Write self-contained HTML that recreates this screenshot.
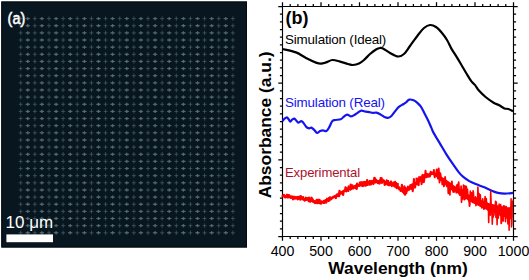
<!DOCTYPE html>
<html><head><meta charset="utf-8"><style>
html,body{margin:0;padding:0;background:#fff;width:529px;height:280px;overflow:hidden}
svg{display:block}
text{font-family:"Liberation Sans",sans-serif}
</style></head><body>
<svg width="529" height="280" viewBox="0 0 529 280">
<rect x="1.3" y="1.5" width="245.7" height="246" fill="#081620"/><rect x="1.8" y="2" width="244.7" height="245" fill="none" stroke="#03090d" stroke-width="1"/>
<filter id="bl" x="-5%" y="-5%" width="110%" height="110%"><feGaussianBlur stdDeviation="0.45"/></filter><path d="M18.70,18.60h4.0M20.70,16.40v4.4M25.6,18.6L27.3,18.2L27.8,17.0L28.3,18.2L30.0,18.6L28.3,19.1L27.8,20.2L27.3,19.1ZM32.85,18.60h4.0M34.85,16.40v4.4M39.7,18.6L41.4,18.2L41.9,17.0L42.4,18.2L44.1,18.6L42.4,19.1L41.9,20.2L41.4,19.1ZM46.99,18.60h4.0M48.99,16.40v4.4M53.9,18.6L55.6,18.2L56.1,17.0L56.6,18.2L58.3,18.6L56.6,19.1L56.1,20.2L55.6,19.1ZM61.14,18.60h4.0M63.14,16.40v4.4M68.0,18.6L69.7,18.2L70.2,17.0L70.7,18.2L72.4,18.6L70.7,19.1L70.2,20.2L69.7,19.1ZM75.28,18.60h4.0M77.28,16.40v4.4M82.2,18.6L83.9,18.2L84.4,17.0L84.9,18.2L86.6,18.6L84.9,19.1L84.4,20.2L83.9,19.1ZM89.43,18.60h4.0M91.43,16.40v4.4M96.3,18.6L98.0,18.2L98.5,17.0L99.0,18.2L100.7,18.6L99.0,19.1L98.5,20.2L98.0,19.1ZM103.58,18.60h4.0M105.58,16.40v4.4M110.4,18.6L112.1,18.2L112.6,17.0L113.1,18.2L114.8,18.6L113.1,19.1L112.6,20.2L112.1,19.1ZM117.72,18.60h4.0M119.72,16.40v4.4M124.6,18.6L126.3,18.2L126.8,17.0L127.3,18.2L129.0,18.6L127.3,19.1L126.8,20.2L126.3,19.1ZM131.87,18.60h4.0M133.87,16.40v4.4M138.7,18.6L140.4,18.2L140.9,17.0L141.4,18.2L143.1,18.6L141.4,19.1L140.9,20.2L140.4,19.1ZM146.01,18.60h4.0M148.01,16.40v4.4M152.9,18.6L154.6,18.2L155.1,17.0L155.6,18.2L157.3,18.6L155.6,19.1L155.1,20.2L154.6,19.1ZM160.16,18.60h4.0M162.16,16.40v4.4M167.0,18.6L168.7,18.2L169.2,17.0L169.7,18.2L171.4,18.6L169.7,19.1L169.2,20.2L168.7,19.1ZM174.31,18.60h4.0M176.31,16.40v4.4M181.2,18.6L182.9,18.2L183.4,17.0L183.9,18.2L185.6,18.6L183.9,19.1L183.4,20.2L182.9,19.1ZM188.45,18.60h4.0M190.45,16.40v4.4M195.3,18.6L197.0,18.2L197.5,17.0L198.0,18.2L199.7,18.6L198.0,19.1L197.5,20.2L197.0,19.1ZM202.60,18.60h4.0M204.60,16.40v4.4M209.5,18.6L211.2,18.2L211.7,17.0L212.2,18.2L213.9,18.6L212.2,19.1L211.7,20.2L211.2,19.1ZM216.74,18.60h4.0M218.74,16.40v4.4M223.6,18.6L225.3,18.2L225.8,17.0L226.3,18.2L228.0,18.6L226.3,19.1L225.8,20.2L225.3,19.1ZM230.89,18.60h4.0M232.89,16.40v4.4M18.70,25.74h4.0M20.70,23.54v4.4M25.6,25.7L27.3,25.3L27.8,24.1L28.3,25.3L30.0,25.7L28.3,26.2L27.8,27.3L27.3,26.2ZM32.85,25.74h4.0M34.85,23.54v4.4M39.7,25.7L41.4,25.3L41.9,24.1L42.4,25.3L44.1,25.7L42.4,26.2L41.9,27.3L41.4,26.2ZM46.99,25.74h4.0M48.99,23.54v4.4M53.9,25.7L55.6,25.3L56.1,24.1L56.6,25.3L58.3,25.7L56.6,26.2L56.1,27.3L55.6,26.2ZM61.14,25.74h4.0M63.14,23.54v4.4M68.0,25.7L69.7,25.3L70.2,24.1L70.7,25.3L72.4,25.7L70.7,26.2L70.2,27.3L69.7,26.2ZM75.28,25.74h4.0M77.28,23.54v4.4M82.2,25.7L83.9,25.3L84.4,24.1L84.9,25.3L86.6,25.7L84.9,26.2L84.4,27.3L83.9,26.2ZM89.43,25.74h4.0M91.43,23.54v4.4M96.3,25.7L98.0,25.3L98.5,24.1L99.0,25.3L100.7,25.7L99.0,26.2L98.5,27.3L98.0,26.2ZM103.58,25.74h4.0M105.58,23.54v4.4M110.4,25.7L112.1,25.3L112.6,24.1L113.1,25.3L114.8,25.7L113.1,26.2L112.6,27.3L112.1,26.2ZM117.72,25.74h4.0M119.72,23.54v4.4M124.6,25.7L126.3,25.3L126.8,24.1L127.3,25.3L129.0,25.7L127.3,26.2L126.8,27.3L126.3,26.2ZM131.87,25.74h4.0M133.87,23.54v4.4M138.7,25.7L140.4,25.3L140.9,24.1L141.4,25.3L143.1,25.7L141.4,26.2L140.9,27.3L140.4,26.2ZM146.01,25.74h4.0M148.01,23.54v4.4M152.9,25.7L154.6,25.3L155.1,24.1L155.6,25.3L157.3,25.7L155.6,26.2L155.1,27.3L154.6,26.2ZM160.16,25.74h4.0M162.16,23.54v4.4M167.0,25.7L168.7,25.3L169.2,24.1L169.7,25.3L171.4,25.7L169.7,26.2L169.2,27.3L168.7,26.2ZM174.31,25.74h4.0M176.31,23.54v4.4M181.2,25.7L182.9,25.3L183.4,24.1L183.9,25.3L185.6,25.7L183.9,26.2L183.4,27.3L182.9,26.2ZM188.45,25.74h4.0M190.45,23.54v4.4M195.3,25.7L197.0,25.3L197.5,24.1L198.0,25.3L199.7,25.7L198.0,26.2L197.5,27.3L197.0,26.2ZM202.60,25.74h4.0M204.60,23.54v4.4M209.5,25.7L211.2,25.3L211.7,24.1L212.2,25.3L213.9,25.7L212.2,26.2L211.7,27.3L211.2,26.2ZM216.74,25.74h4.0M218.74,23.54v4.4M223.6,25.7L225.3,25.3L225.8,24.1L226.3,25.3L228.0,25.7L226.3,26.2L225.8,27.3L225.3,26.2ZM230.89,25.74h4.0M232.89,23.54v4.4M18.70,32.88h4.0M20.70,30.68v4.4M25.6,32.9L27.3,32.4L27.8,31.3L28.3,32.4L30.0,32.9L28.3,33.3L27.8,34.5L27.3,33.3ZM32.85,32.88h4.0M34.85,30.68v4.4M39.7,32.9L41.4,32.4L41.9,31.3L42.4,32.4L44.1,32.9L42.4,33.3L41.9,34.5L41.4,33.3ZM46.99,32.88h4.0M48.99,30.68v4.4M53.9,32.9L55.6,32.4L56.1,31.3L56.6,32.4L58.3,32.9L56.6,33.3L56.1,34.5L55.6,33.3ZM61.14,32.88h4.0M63.14,30.68v4.4M68.0,32.9L69.7,32.4L70.2,31.3L70.7,32.4L72.4,32.9L70.7,33.3L70.2,34.5L69.7,33.3ZM75.28,32.88h4.0M77.28,30.68v4.4M82.2,32.9L83.9,32.4L84.4,31.3L84.9,32.4L86.6,32.9L84.9,33.3L84.4,34.5L83.9,33.3ZM89.43,32.88h4.0M91.43,30.68v4.4M96.3,32.9L98.0,32.4L98.5,31.3L99.0,32.4L100.7,32.9L99.0,33.3L98.5,34.5L98.0,33.3ZM103.58,32.88h4.0M105.58,30.68v4.4M110.4,32.9L112.1,32.4L112.6,31.3L113.1,32.4L114.8,32.9L113.1,33.3L112.6,34.5L112.1,33.3ZM117.72,32.88h4.0M119.72,30.68v4.4M124.6,32.9L126.3,32.4L126.8,31.3L127.3,32.4L129.0,32.9L127.3,33.3L126.8,34.5L126.3,33.3ZM131.87,32.88h4.0M133.87,30.68v4.4M138.7,32.9L140.4,32.4L140.9,31.3L141.4,32.4L143.1,32.9L141.4,33.3L140.9,34.5L140.4,33.3ZM146.01,32.88h4.0M148.01,30.68v4.4M152.9,32.9L154.6,32.4L155.1,31.3L155.6,32.4L157.3,32.9L155.6,33.3L155.1,34.5L154.6,33.3ZM160.16,32.88h4.0M162.16,30.68v4.4M167.0,32.9L168.7,32.4L169.2,31.3L169.7,32.4L171.4,32.9L169.7,33.3L169.2,34.5L168.7,33.3ZM174.31,32.88h4.0M176.31,30.68v4.4M181.2,32.9L182.9,32.4L183.4,31.3L183.9,32.4L185.6,32.9L183.9,33.3L183.4,34.5L182.9,33.3ZM188.45,32.88h4.0M190.45,30.68v4.4M195.3,32.9L197.0,32.4L197.5,31.3L198.0,32.4L199.7,32.9L198.0,33.3L197.5,34.5L197.0,33.3ZM202.60,32.88h4.0M204.60,30.68v4.4M209.5,32.9L211.2,32.4L211.7,31.3L212.2,32.4L213.9,32.9L212.2,33.3L211.7,34.5L211.2,33.3ZM216.74,32.88h4.0M218.74,30.68v4.4M223.6,32.9L225.3,32.4L225.8,31.3L226.3,32.4L228.0,32.9L226.3,33.3L225.8,34.5L225.3,33.3ZM230.89,32.88h4.0M232.89,30.68v4.4M18.70,40.02h4.0M20.70,37.82v4.4M25.6,40.0L27.3,39.6L27.8,38.4L28.3,39.6L30.0,40.0L28.3,40.5L27.8,41.6L27.3,40.5ZM32.85,40.02h4.0M34.85,37.82v4.4M39.7,40.0L41.4,39.6L41.9,38.4L42.4,39.6L44.1,40.0L42.4,40.5L41.9,41.6L41.4,40.5ZM46.99,40.02h4.0M48.99,37.82v4.4M53.9,40.0L55.6,39.6L56.1,38.4L56.6,39.6L58.3,40.0L56.6,40.5L56.1,41.6L55.6,40.5ZM61.14,40.02h4.0M63.14,37.82v4.4M68.0,40.0L69.7,39.6L70.2,38.4L70.7,39.6L72.4,40.0L70.7,40.5L70.2,41.6L69.7,40.5ZM75.28,40.02h4.0M77.28,37.82v4.4M82.2,40.0L83.9,39.6L84.4,38.4L84.9,39.6L86.6,40.0L84.9,40.5L84.4,41.6L83.9,40.5ZM89.43,40.02h4.0M91.43,37.82v4.4M96.3,40.0L98.0,39.6L98.5,38.4L99.0,39.6L100.7,40.0L99.0,40.5L98.5,41.6L98.0,40.5ZM103.58,40.02h4.0M105.58,37.82v4.4M110.4,40.0L112.1,39.6L112.6,38.4L113.1,39.6L114.8,40.0L113.1,40.5L112.6,41.6L112.1,40.5ZM117.72,40.02h4.0M119.72,37.82v4.4M124.6,40.0L126.3,39.6L126.8,38.4L127.3,39.6L129.0,40.0L127.3,40.5L126.8,41.6L126.3,40.5ZM131.87,40.02h4.0M133.87,37.82v4.4M138.7,40.0L140.4,39.6L140.9,38.4L141.4,39.6L143.1,40.0L141.4,40.5L140.9,41.6L140.4,40.5ZM146.01,40.02h4.0M148.01,37.82v4.4M152.9,40.0L154.6,39.6L155.1,38.4L155.6,39.6L157.3,40.0L155.6,40.5L155.1,41.6L154.6,40.5ZM160.16,40.02h4.0M162.16,37.82v4.4M167.0,40.0L168.7,39.6L169.2,38.4L169.7,39.6L171.4,40.0L169.7,40.5L169.2,41.6L168.7,40.5ZM174.31,40.02h4.0M176.31,37.82v4.4M181.2,40.0L182.9,39.6L183.4,38.4L183.9,39.6L185.6,40.0L183.9,40.5L183.4,41.6L182.9,40.5ZM188.45,40.02h4.0M190.45,37.82v4.4M195.3,40.0L197.0,39.6L197.5,38.4L198.0,39.6L199.7,40.0L198.0,40.5L197.5,41.6L197.0,40.5ZM202.60,40.02h4.0M204.60,37.82v4.4M209.5,40.0L211.2,39.6L211.7,38.4L212.2,39.6L213.9,40.0L212.2,40.5L211.7,41.6L211.2,40.5ZM216.74,40.02h4.0M218.74,37.82v4.4M223.6,40.0L225.3,39.6L225.8,38.4L226.3,39.6L228.0,40.0L226.3,40.5L225.8,41.6L225.3,40.5ZM230.89,40.02h4.0M232.89,37.82v4.4M18.70,47.16h4.0M20.70,44.96v4.4M25.6,47.2L27.3,46.7L27.8,45.6L28.3,46.7L30.0,47.2L28.3,47.6L27.8,48.8L27.3,47.6ZM32.85,47.16h4.0M34.85,44.96v4.4M39.7,47.2L41.4,46.7L41.9,45.6L42.4,46.7L44.1,47.2L42.4,47.6L41.9,48.8L41.4,47.6ZM46.99,47.16h4.0M48.99,44.96v4.4M53.9,47.2L55.6,46.7L56.1,45.6L56.6,46.7L58.3,47.2L56.6,47.6L56.1,48.8L55.6,47.6ZM61.14,47.16h4.0M63.14,44.96v4.4M68.0,47.2L69.7,46.7L70.2,45.6L70.7,46.7L72.4,47.2L70.7,47.6L70.2,48.8L69.7,47.6ZM75.28,47.16h4.0M77.28,44.96v4.4M82.2,47.2L83.9,46.7L84.4,45.6L84.9,46.7L86.6,47.2L84.9,47.6L84.4,48.8L83.9,47.6ZM89.43,47.16h4.0M91.43,44.96v4.4M96.3,47.2L98.0,46.7L98.5,45.6L99.0,46.7L100.7,47.2L99.0,47.6L98.5,48.8L98.0,47.6ZM103.58,47.16h4.0M105.58,44.96v4.4M110.4,47.2L112.1,46.7L112.6,45.6L113.1,46.7L114.8,47.2L113.1,47.6L112.6,48.8L112.1,47.6ZM117.72,47.16h4.0M119.72,44.96v4.4M124.6,47.2L126.3,46.7L126.8,45.6L127.3,46.7L129.0,47.2L127.3,47.6L126.8,48.8L126.3,47.6ZM131.87,47.16h4.0M133.87,44.96v4.4M138.7,47.2L140.4,46.7L140.9,45.6L141.4,46.7L143.1,47.2L141.4,47.6L140.9,48.8L140.4,47.6ZM146.01,47.16h4.0M148.01,44.96v4.4M152.9,47.2L154.6,46.7L155.1,45.6L155.6,46.7L157.3,47.2L155.6,47.6L155.1,48.8L154.6,47.6ZM160.16,47.16h4.0M162.16,44.96v4.4M167.0,47.2L168.7,46.7L169.2,45.6L169.7,46.7L171.4,47.2L169.7,47.6L169.2,48.8L168.7,47.6ZM174.31,47.16h4.0M176.31,44.96v4.4M181.2,47.2L182.9,46.7L183.4,45.6L183.9,46.7L185.6,47.2L183.9,47.6L183.4,48.8L182.9,47.6ZM188.45,47.16h4.0M190.45,44.96v4.4M195.3,47.2L197.0,46.7L197.5,45.6L198.0,46.7L199.7,47.2L198.0,47.6L197.5,48.8L197.0,47.6ZM202.60,47.16h4.0M204.60,44.96v4.4M209.5,47.2L211.2,46.7L211.7,45.6L212.2,46.7L213.9,47.2L212.2,47.6L211.7,48.8L211.2,47.6ZM216.74,47.16h4.0M218.74,44.96v4.4M223.6,47.2L225.3,46.7L225.8,45.6L226.3,46.7L228.0,47.2L226.3,47.6L225.8,48.8L225.3,47.6ZM230.89,47.16h4.0M232.89,44.96v4.4M18.70,54.30h4.0M20.70,52.10v4.4M25.6,54.3L27.3,53.8L27.8,52.7L28.3,53.8L30.0,54.3L28.3,54.8L27.8,55.9L27.3,54.8ZM32.85,54.30h4.0M34.85,52.10v4.4M39.7,54.3L41.4,53.8L41.9,52.7L42.4,53.8L44.1,54.3L42.4,54.8L41.9,55.9L41.4,54.8ZM46.99,54.30h4.0M48.99,52.10v4.4M53.9,54.3L55.6,53.8L56.1,52.7L56.6,53.8L58.3,54.3L56.6,54.8L56.1,55.9L55.6,54.8ZM61.14,54.30h4.0M63.14,52.10v4.4M68.0,54.3L69.7,53.8L70.2,52.7L70.7,53.8L72.4,54.3L70.7,54.8L70.2,55.9L69.7,54.8ZM75.28,54.30h4.0M77.28,52.10v4.4M82.2,54.3L83.9,53.8L84.4,52.7L84.9,53.8L86.6,54.3L84.9,54.8L84.4,55.9L83.9,54.8ZM89.43,54.30h4.0M91.43,52.10v4.4M96.3,54.3L98.0,53.8L98.5,52.7L99.0,53.8L100.7,54.3L99.0,54.8L98.5,55.9L98.0,54.8ZM103.58,54.30h4.0M105.58,52.10v4.4M110.4,54.3L112.1,53.8L112.6,52.7L113.1,53.8L114.8,54.3L113.1,54.8L112.6,55.9L112.1,54.8ZM117.72,54.30h4.0M119.72,52.10v4.4M124.6,54.3L126.3,53.8L126.8,52.7L127.3,53.8L129.0,54.3L127.3,54.8L126.8,55.9L126.3,54.8ZM131.87,54.30h4.0M133.87,52.10v4.4M138.7,54.3L140.4,53.8L140.9,52.7L141.4,53.8L143.1,54.3L141.4,54.8L140.9,55.9L140.4,54.8ZM146.01,54.30h4.0M148.01,52.10v4.4M152.9,54.3L154.6,53.8L155.1,52.7L155.6,53.8L157.3,54.3L155.6,54.8L155.1,55.9L154.6,54.8ZM160.16,54.30h4.0M162.16,52.10v4.4M167.0,54.3L168.7,53.8L169.2,52.7L169.7,53.8L171.4,54.3L169.7,54.8L169.2,55.9L168.7,54.8ZM174.31,54.30h4.0M176.31,52.10v4.4M181.2,54.3L182.9,53.8L183.4,52.7L183.9,53.8L185.6,54.3L183.9,54.8L183.4,55.9L182.9,54.8ZM188.45,54.30h4.0M190.45,52.10v4.4M195.3,54.3L197.0,53.8L197.5,52.7L198.0,53.8L199.7,54.3L198.0,54.8L197.5,55.9L197.0,54.8ZM202.60,54.30h4.0M204.60,52.10v4.4M209.5,54.3L211.2,53.8L211.7,52.7L212.2,53.8L213.9,54.3L212.2,54.8L211.7,55.9L211.2,54.8ZM216.74,54.30h4.0M218.74,52.10v4.4M223.6,54.3L225.3,53.8L225.8,52.7L226.3,53.8L228.0,54.3L226.3,54.8L225.8,55.9L225.3,54.8ZM230.89,54.30h4.0M232.89,52.10v4.4M18.70,61.44h4.0M20.70,59.24v4.4M25.6,61.4L27.3,61.0L27.8,59.8L28.3,61.0L30.0,61.4L28.3,61.9L27.8,63.0L27.3,61.9ZM32.85,61.44h4.0M34.85,59.24v4.4M39.7,61.4L41.4,61.0L41.9,59.8L42.4,61.0L44.1,61.4L42.4,61.9L41.9,63.0L41.4,61.9ZM46.99,61.44h4.0M48.99,59.24v4.4M53.9,61.4L55.6,61.0L56.1,59.8L56.6,61.0L58.3,61.4L56.6,61.9L56.1,63.0L55.6,61.9ZM61.14,61.44h4.0M63.14,59.24v4.4M68.0,61.4L69.7,61.0L70.2,59.8L70.7,61.0L72.4,61.4L70.7,61.9L70.2,63.0L69.7,61.9ZM75.28,61.44h4.0M77.28,59.24v4.4M82.2,61.4L83.9,61.0L84.4,59.8L84.9,61.0L86.6,61.4L84.9,61.9L84.4,63.0L83.9,61.9ZM89.43,61.44h4.0M91.43,59.24v4.4M96.3,61.4L98.0,61.0L98.5,59.8L99.0,61.0L100.7,61.4L99.0,61.9L98.5,63.0L98.0,61.9ZM103.58,61.44h4.0M105.58,59.24v4.4M110.4,61.4L112.1,61.0L112.6,59.8L113.1,61.0L114.8,61.4L113.1,61.9L112.6,63.0L112.1,61.9ZM117.72,61.44h4.0M119.72,59.24v4.4M124.6,61.4L126.3,61.0L126.8,59.8L127.3,61.0L129.0,61.4L127.3,61.9L126.8,63.0L126.3,61.9ZM131.87,61.44h4.0M133.87,59.24v4.4M138.7,61.4L140.4,61.0L140.9,59.8L141.4,61.0L143.1,61.4L141.4,61.9L140.9,63.0L140.4,61.9ZM146.01,61.44h4.0M148.01,59.24v4.4M152.9,61.4L154.6,61.0L155.1,59.8L155.6,61.0L157.3,61.4L155.6,61.9L155.1,63.0L154.6,61.9ZM160.16,61.44h4.0M162.16,59.24v4.4M167.0,61.4L168.7,61.0L169.2,59.8L169.7,61.0L171.4,61.4L169.7,61.9L169.2,63.0L168.7,61.9ZM174.31,61.44h4.0M176.31,59.24v4.4M181.2,61.4L182.9,61.0L183.4,59.8L183.9,61.0L185.6,61.4L183.9,61.9L183.4,63.0L182.9,61.9ZM188.45,61.44h4.0M190.45,59.24v4.4M195.3,61.4L197.0,61.0L197.5,59.8L198.0,61.0L199.7,61.4L198.0,61.9L197.5,63.0L197.0,61.9ZM202.60,61.44h4.0M204.60,59.24v4.4M209.5,61.4L211.2,61.0L211.7,59.8L212.2,61.0L213.9,61.4L212.2,61.9L211.7,63.0L211.2,61.9ZM216.74,61.44h4.0M218.74,59.24v4.4M223.6,61.4L225.3,61.0L225.8,59.8L226.3,61.0L228.0,61.4L226.3,61.9L225.8,63.0L225.3,61.9ZM230.89,61.44h4.0M232.89,59.24v4.4M18.70,68.58h4.0M20.70,66.38v4.4M25.6,68.6L27.3,68.1L27.8,67.0L28.3,68.1L30.0,68.6L28.3,69.0L27.8,70.2L27.3,69.0ZM32.85,68.58h4.0M34.85,66.38v4.4M39.7,68.6L41.4,68.1L41.9,67.0L42.4,68.1L44.1,68.6L42.4,69.0L41.9,70.2L41.4,69.0ZM46.99,68.58h4.0M48.99,66.38v4.4M53.9,68.6L55.6,68.1L56.1,67.0L56.6,68.1L58.3,68.6L56.6,69.0L56.1,70.2L55.6,69.0ZM61.14,68.58h4.0M63.14,66.38v4.4M68.0,68.6L69.7,68.1L70.2,67.0L70.7,68.1L72.4,68.6L70.7,69.0L70.2,70.2L69.7,69.0ZM75.28,68.58h4.0M77.28,66.38v4.4M82.2,68.6L83.9,68.1L84.4,67.0L84.9,68.1L86.6,68.6L84.9,69.0L84.4,70.2L83.9,69.0ZM89.43,68.58h4.0M91.43,66.38v4.4M96.3,68.6L98.0,68.1L98.5,67.0L99.0,68.1L100.7,68.6L99.0,69.0L98.5,70.2L98.0,69.0ZM103.58,68.58h4.0M105.58,66.38v4.4M110.4,68.6L112.1,68.1L112.6,67.0L113.1,68.1L114.8,68.6L113.1,69.0L112.6,70.2L112.1,69.0ZM117.72,68.58h4.0M119.72,66.38v4.4M124.6,68.6L126.3,68.1L126.8,67.0L127.3,68.1L129.0,68.6L127.3,69.0L126.8,70.2L126.3,69.0ZM131.87,68.58h4.0M133.87,66.38v4.4M138.7,68.6L140.4,68.1L140.9,67.0L141.4,68.1L143.1,68.6L141.4,69.0L140.9,70.2L140.4,69.0ZM146.01,68.58h4.0M148.01,66.38v4.4M152.9,68.6L154.6,68.1L155.1,67.0L155.6,68.1L157.3,68.6L155.6,69.0L155.1,70.2L154.6,69.0ZM160.16,68.58h4.0M162.16,66.38v4.4M167.0,68.6L168.7,68.1L169.2,67.0L169.7,68.1L171.4,68.6L169.7,69.0L169.2,70.2L168.7,69.0ZM174.31,68.58h4.0M176.31,66.38v4.4M181.2,68.6L182.9,68.1L183.4,67.0L183.9,68.1L185.6,68.6L183.9,69.0L183.4,70.2L182.9,69.0ZM188.45,68.58h4.0M190.45,66.38v4.4M195.3,68.6L197.0,68.1L197.5,67.0L198.0,68.1L199.7,68.6L198.0,69.0L197.5,70.2L197.0,69.0ZM202.60,68.58h4.0M204.60,66.38v4.4M209.5,68.6L211.2,68.1L211.7,67.0L212.2,68.1L213.9,68.6L212.2,69.0L211.7,70.2L211.2,69.0ZM216.74,68.58h4.0M218.74,66.38v4.4M223.6,68.6L225.3,68.1L225.8,67.0L226.3,68.1L228.0,68.6L226.3,69.0L225.8,70.2L225.3,69.0ZM230.89,68.58h4.0M232.89,66.38v4.4M18.70,75.72h4.0M20.70,73.52v4.4M25.6,75.7L27.3,75.3L27.8,74.1L28.3,75.3L30.0,75.7L28.3,76.2L27.8,77.3L27.3,76.2ZM32.85,75.72h4.0M34.85,73.52v4.4M39.7,75.7L41.4,75.3L41.9,74.1L42.4,75.3L44.1,75.7L42.4,76.2L41.9,77.3L41.4,76.2ZM46.99,75.72h4.0M48.99,73.52v4.4M53.9,75.7L55.6,75.3L56.1,74.1L56.6,75.3L58.3,75.7L56.6,76.2L56.1,77.3L55.6,76.2ZM61.14,75.72h4.0M63.14,73.52v4.4M68.0,75.7L69.7,75.3L70.2,74.1L70.7,75.3L72.4,75.7L70.7,76.2L70.2,77.3L69.7,76.2ZM75.28,75.72h4.0M77.28,73.52v4.4M82.2,75.7L83.9,75.3L84.4,74.1L84.9,75.3L86.6,75.7L84.9,76.2L84.4,77.3L83.9,76.2ZM89.43,75.72h4.0M91.43,73.52v4.4M96.3,75.7L98.0,75.3L98.5,74.1L99.0,75.3L100.7,75.7L99.0,76.2L98.5,77.3L98.0,76.2ZM103.58,75.72h4.0M105.58,73.52v4.4M110.4,75.7L112.1,75.3L112.6,74.1L113.1,75.3L114.8,75.7L113.1,76.2L112.6,77.3L112.1,76.2ZM117.72,75.72h4.0M119.72,73.52v4.4M124.6,75.7L126.3,75.3L126.8,74.1L127.3,75.3L129.0,75.7L127.3,76.2L126.8,77.3L126.3,76.2ZM131.87,75.72h4.0M133.87,73.52v4.4M138.7,75.7L140.4,75.3L140.9,74.1L141.4,75.3L143.1,75.7L141.4,76.2L140.9,77.3L140.4,76.2ZM146.01,75.72h4.0M148.01,73.52v4.4M152.9,75.7L154.6,75.3L155.1,74.1L155.6,75.3L157.3,75.7L155.6,76.2L155.1,77.3L154.6,76.2ZM160.16,75.72h4.0M162.16,73.52v4.4M167.0,75.7L168.7,75.3L169.2,74.1L169.7,75.3L171.4,75.7L169.7,76.2L169.2,77.3L168.7,76.2ZM174.31,75.72h4.0M176.31,73.52v4.4M181.2,75.7L182.9,75.3L183.4,74.1L183.9,75.3L185.6,75.7L183.9,76.2L183.4,77.3L182.9,76.2ZM188.45,75.72h4.0M190.45,73.52v4.4M195.3,75.7L197.0,75.3L197.5,74.1L198.0,75.3L199.7,75.7L198.0,76.2L197.5,77.3L197.0,76.2ZM202.60,75.72h4.0M204.60,73.52v4.4M209.5,75.7L211.2,75.3L211.7,74.1L212.2,75.3L213.9,75.7L212.2,76.2L211.7,77.3L211.2,76.2ZM216.74,75.72h4.0M218.74,73.52v4.4M223.6,75.7L225.3,75.3L225.8,74.1L226.3,75.3L228.0,75.7L226.3,76.2L225.8,77.3L225.3,76.2ZM230.89,75.72h4.0M232.89,73.52v4.4M18.70,82.86h4.0M20.70,80.66v4.4M25.6,82.9L27.3,82.4L27.8,81.3L28.3,82.4L30.0,82.9L28.3,83.3L27.8,84.5L27.3,83.3ZM32.85,82.86h4.0M34.85,80.66v4.4M39.7,82.9L41.4,82.4L41.9,81.3L42.4,82.4L44.1,82.9L42.4,83.3L41.9,84.5L41.4,83.3ZM46.99,82.86h4.0M48.99,80.66v4.4M53.9,82.9L55.6,82.4L56.1,81.3L56.6,82.4L58.3,82.9L56.6,83.3L56.1,84.5L55.6,83.3ZM61.14,82.86h4.0M63.14,80.66v4.4M68.0,82.9L69.7,82.4L70.2,81.3L70.7,82.4L72.4,82.9L70.7,83.3L70.2,84.5L69.7,83.3ZM75.28,82.86h4.0M77.28,80.66v4.4M82.2,82.9L83.9,82.4L84.4,81.3L84.9,82.4L86.6,82.9L84.9,83.3L84.4,84.5L83.9,83.3ZM89.43,82.86h4.0M91.43,80.66v4.4M96.3,82.9L98.0,82.4L98.5,81.3L99.0,82.4L100.7,82.9L99.0,83.3L98.5,84.5L98.0,83.3ZM103.58,82.86h4.0M105.58,80.66v4.4M110.4,82.9L112.1,82.4L112.6,81.3L113.1,82.4L114.8,82.9L113.1,83.3L112.6,84.5L112.1,83.3ZM117.72,82.86h4.0M119.72,80.66v4.4M124.6,82.9L126.3,82.4L126.8,81.3L127.3,82.4L129.0,82.9L127.3,83.3L126.8,84.5L126.3,83.3ZM131.87,82.86h4.0M133.87,80.66v4.4M138.7,82.9L140.4,82.4L140.9,81.3L141.4,82.4L143.1,82.9L141.4,83.3L140.9,84.5L140.4,83.3ZM146.01,82.86h4.0M148.01,80.66v4.4M152.9,82.9L154.6,82.4L155.1,81.3L155.6,82.4L157.3,82.9L155.6,83.3L155.1,84.5L154.6,83.3ZM160.16,82.86h4.0M162.16,80.66v4.4M167.0,82.9L168.7,82.4L169.2,81.3L169.7,82.4L171.4,82.9L169.7,83.3L169.2,84.5L168.7,83.3ZM174.31,82.86h4.0M176.31,80.66v4.4M181.2,82.9L182.9,82.4L183.4,81.3L183.9,82.4L185.6,82.9L183.9,83.3L183.4,84.5L182.9,83.3ZM188.45,82.86h4.0M190.45,80.66v4.4M195.3,82.9L197.0,82.4L197.5,81.3L198.0,82.4L199.7,82.9L198.0,83.3L197.5,84.5L197.0,83.3ZM202.60,82.86h4.0M204.60,80.66v4.4M209.5,82.9L211.2,82.4L211.7,81.3L212.2,82.4L213.9,82.9L212.2,83.3L211.7,84.5L211.2,83.3ZM216.74,82.86h4.0M218.74,80.66v4.4M223.6,82.9L225.3,82.4L225.8,81.3L226.3,82.4L228.0,82.9L226.3,83.3L225.8,84.5L225.3,83.3ZM230.89,82.86h4.0M232.89,80.66v4.4M18.70,90.00h4.0M20.70,87.80v4.4M25.6,90.0L27.3,89.5L27.8,88.4L28.3,89.5L30.0,90.0L28.3,90.5L27.8,91.6L27.3,90.5ZM32.85,90.00h4.0M34.85,87.80v4.4M39.7,90.0L41.4,89.5L41.9,88.4L42.4,89.5L44.1,90.0L42.4,90.5L41.9,91.6L41.4,90.5ZM46.99,90.00h4.0M48.99,87.80v4.4M53.9,90.0L55.6,89.5L56.1,88.4L56.6,89.5L58.3,90.0L56.6,90.5L56.1,91.6L55.6,90.5ZM61.14,90.00h4.0M63.14,87.80v4.4M68.0,90.0L69.7,89.5L70.2,88.4L70.7,89.5L72.4,90.0L70.7,90.5L70.2,91.6L69.7,90.5ZM75.28,90.00h4.0M77.28,87.80v4.4M82.2,90.0L83.9,89.5L84.4,88.4L84.9,89.5L86.6,90.0L84.9,90.5L84.4,91.6L83.9,90.5ZM89.43,90.00h4.0M91.43,87.80v4.4M96.3,90.0L98.0,89.5L98.5,88.4L99.0,89.5L100.7,90.0L99.0,90.5L98.5,91.6L98.0,90.5ZM103.58,90.00h4.0M105.58,87.80v4.4M110.4,90.0L112.1,89.5L112.6,88.4L113.1,89.5L114.8,90.0L113.1,90.5L112.6,91.6L112.1,90.5ZM117.72,90.00h4.0M119.72,87.80v4.4M124.6,90.0L126.3,89.5L126.8,88.4L127.3,89.5L129.0,90.0L127.3,90.5L126.8,91.6L126.3,90.5ZM131.87,90.00h4.0M133.87,87.80v4.4M138.7,90.0L140.4,89.5L140.9,88.4L141.4,89.5L143.1,90.0L141.4,90.5L140.9,91.6L140.4,90.5ZM146.01,90.00h4.0M148.01,87.80v4.4M152.9,90.0L154.6,89.5L155.1,88.4L155.6,89.5L157.3,90.0L155.6,90.5L155.1,91.6L154.6,90.5ZM160.16,90.00h4.0M162.16,87.80v4.4M167.0,90.0L168.7,89.5L169.2,88.4L169.7,89.5L171.4,90.0L169.7,90.5L169.2,91.6L168.7,90.5ZM174.31,90.00h4.0M176.31,87.80v4.4M181.2,90.0L182.9,89.5L183.4,88.4L183.9,89.5L185.6,90.0L183.9,90.5L183.4,91.6L182.9,90.5ZM188.45,90.00h4.0M190.45,87.80v4.4M195.3,90.0L197.0,89.5L197.5,88.4L198.0,89.5L199.7,90.0L198.0,90.5L197.5,91.6L197.0,90.5ZM202.60,90.00h4.0M204.60,87.80v4.4M209.5,90.0L211.2,89.5L211.7,88.4L212.2,89.5L213.9,90.0L212.2,90.5L211.7,91.6L211.2,90.5ZM216.74,90.00h4.0M218.74,87.80v4.4M223.6,90.0L225.3,89.5L225.8,88.4L226.3,89.5L228.0,90.0L226.3,90.5L225.8,91.6L225.3,90.5ZM230.89,90.00h4.0M232.89,87.80v4.4M18.70,97.14h4.0M20.70,94.94v4.4M25.6,97.1L27.3,96.7L27.8,95.5L28.3,96.7L30.0,97.1L28.3,97.6L27.8,98.7L27.3,97.6ZM32.85,97.14h4.0M34.85,94.94v4.4M39.7,97.1L41.4,96.7L41.9,95.5L42.4,96.7L44.1,97.1L42.4,97.6L41.9,98.7L41.4,97.6ZM46.99,97.14h4.0M48.99,94.94v4.4M53.9,97.1L55.6,96.7L56.1,95.5L56.6,96.7L58.3,97.1L56.6,97.6L56.1,98.7L55.6,97.6ZM61.14,97.14h4.0M63.14,94.94v4.4M68.0,97.1L69.7,96.7L70.2,95.5L70.7,96.7L72.4,97.1L70.7,97.6L70.2,98.7L69.7,97.6ZM75.28,97.14h4.0M77.28,94.94v4.4M82.2,97.1L83.9,96.7L84.4,95.5L84.9,96.7L86.6,97.1L84.9,97.6L84.4,98.7L83.9,97.6ZM89.43,97.14h4.0M91.43,94.94v4.4M96.3,97.1L98.0,96.7L98.5,95.5L99.0,96.7L100.7,97.1L99.0,97.6L98.5,98.7L98.0,97.6ZM103.58,97.14h4.0M105.58,94.94v4.4M110.4,97.1L112.1,96.7L112.6,95.5L113.1,96.7L114.8,97.1L113.1,97.6L112.6,98.7L112.1,97.6ZM117.72,97.14h4.0M119.72,94.94v4.4M124.6,97.1L126.3,96.7L126.8,95.5L127.3,96.7L129.0,97.1L127.3,97.6L126.8,98.7L126.3,97.6ZM131.87,97.14h4.0M133.87,94.94v4.4M138.7,97.1L140.4,96.7L140.9,95.5L141.4,96.7L143.1,97.1L141.4,97.6L140.9,98.7L140.4,97.6ZM146.01,97.14h4.0M148.01,94.94v4.4M152.9,97.1L154.6,96.7L155.1,95.5L155.6,96.7L157.3,97.1L155.6,97.6L155.1,98.7L154.6,97.6ZM160.16,97.14h4.0M162.16,94.94v4.4M167.0,97.1L168.7,96.7L169.2,95.5L169.7,96.7L171.4,97.1L169.7,97.6L169.2,98.7L168.7,97.6ZM174.31,97.14h4.0M176.31,94.94v4.4M181.2,97.1L182.9,96.7L183.4,95.5L183.9,96.7L185.6,97.1L183.9,97.6L183.4,98.7L182.9,97.6ZM188.45,97.14h4.0M190.45,94.94v4.4M195.3,97.1L197.0,96.7L197.5,95.5L198.0,96.7L199.7,97.1L198.0,97.6L197.5,98.7L197.0,97.6ZM202.60,97.14h4.0M204.60,94.94v4.4M209.5,97.1L211.2,96.7L211.7,95.5L212.2,96.7L213.9,97.1L212.2,97.6L211.7,98.7L211.2,97.6ZM216.74,97.14h4.0M218.74,94.94v4.4M223.6,97.1L225.3,96.7L225.8,95.5L226.3,96.7L228.0,97.1L226.3,97.6L225.8,98.7L225.3,97.6ZM230.89,97.14h4.0M232.89,94.94v4.4M18.70,104.28h4.0M20.70,102.08v4.4M25.6,104.3L27.3,103.8L27.8,102.7L28.3,103.8L30.0,104.3L28.3,104.7L27.8,105.9L27.3,104.7ZM32.85,104.28h4.0M34.85,102.08v4.4M39.7,104.3L41.4,103.8L41.9,102.7L42.4,103.8L44.1,104.3L42.4,104.7L41.9,105.9L41.4,104.7ZM46.99,104.28h4.0M48.99,102.08v4.4M53.9,104.3L55.6,103.8L56.1,102.7L56.6,103.8L58.3,104.3L56.6,104.7L56.1,105.9L55.6,104.7ZM61.14,104.28h4.0M63.14,102.08v4.4M68.0,104.3L69.7,103.8L70.2,102.7L70.7,103.8L72.4,104.3L70.7,104.7L70.2,105.9L69.7,104.7ZM75.28,104.28h4.0M77.28,102.08v4.4M82.2,104.3L83.9,103.8L84.4,102.7L84.9,103.8L86.6,104.3L84.9,104.7L84.4,105.9L83.9,104.7ZM89.43,104.28h4.0M91.43,102.08v4.4M96.3,104.3L98.0,103.8L98.5,102.7L99.0,103.8L100.7,104.3L99.0,104.7L98.5,105.9L98.0,104.7ZM103.58,104.28h4.0M105.58,102.08v4.4M110.4,104.3L112.1,103.8L112.6,102.7L113.1,103.8L114.8,104.3L113.1,104.7L112.6,105.9L112.1,104.7ZM117.72,104.28h4.0M119.72,102.08v4.4M124.6,104.3L126.3,103.8L126.8,102.7L127.3,103.8L129.0,104.3L127.3,104.7L126.8,105.9L126.3,104.7ZM131.87,104.28h4.0M133.87,102.08v4.4M138.7,104.3L140.4,103.8L140.9,102.7L141.4,103.8L143.1,104.3L141.4,104.7L140.9,105.9L140.4,104.7ZM146.01,104.28h4.0M148.01,102.08v4.4M152.9,104.3L154.6,103.8L155.1,102.7L155.6,103.8L157.3,104.3L155.6,104.7L155.1,105.9L154.6,104.7ZM160.16,104.28h4.0M162.16,102.08v4.4M167.0,104.3L168.7,103.8L169.2,102.7L169.7,103.8L171.4,104.3L169.7,104.7L169.2,105.9L168.7,104.7ZM174.31,104.28h4.0M176.31,102.08v4.4M181.2,104.3L182.9,103.8L183.4,102.7L183.9,103.8L185.6,104.3L183.9,104.7L183.4,105.9L182.9,104.7ZM188.45,104.28h4.0M190.45,102.08v4.4M195.3,104.3L197.0,103.8L197.5,102.7L198.0,103.8L199.7,104.3L198.0,104.7L197.5,105.9L197.0,104.7ZM202.60,104.28h4.0M204.60,102.08v4.4M209.5,104.3L211.2,103.8L211.7,102.7L212.2,103.8L213.9,104.3L212.2,104.7L211.7,105.9L211.2,104.7ZM216.74,104.28h4.0M218.74,102.08v4.4M223.6,104.3L225.3,103.8L225.8,102.7L226.3,103.8L228.0,104.3L226.3,104.7L225.8,105.9L225.3,104.7ZM230.89,104.28h4.0M232.89,102.08v4.4M18.70,111.42h4.0M20.70,109.22v4.4M25.6,111.4L27.3,111.0L27.8,109.8L28.3,111.0L30.0,111.4L28.3,111.9L27.8,113.0L27.3,111.9ZM32.85,111.42h4.0M34.85,109.22v4.4M39.7,111.4L41.4,111.0L41.9,109.8L42.4,111.0L44.1,111.4L42.4,111.9L41.9,113.0L41.4,111.9ZM46.99,111.42h4.0M48.99,109.22v4.4M53.9,111.4L55.6,111.0L56.1,109.8L56.6,111.0L58.3,111.4L56.6,111.9L56.1,113.0L55.6,111.9ZM61.14,111.42h4.0M63.14,109.22v4.4M68.0,111.4L69.7,111.0L70.2,109.8L70.7,111.0L72.4,111.4L70.7,111.9L70.2,113.0L69.7,111.9ZM75.28,111.42h4.0M77.28,109.22v4.4M82.2,111.4L83.9,111.0L84.4,109.8L84.9,111.0L86.6,111.4L84.9,111.9L84.4,113.0L83.9,111.9ZM89.43,111.42h4.0M91.43,109.22v4.4M96.3,111.4L98.0,111.0L98.5,109.8L99.0,111.0L100.7,111.4L99.0,111.9L98.5,113.0L98.0,111.9ZM103.58,111.42h4.0M105.58,109.22v4.4M110.4,111.4L112.1,111.0L112.6,109.8L113.1,111.0L114.8,111.4L113.1,111.9L112.6,113.0L112.1,111.9ZM117.72,111.42h4.0M119.72,109.22v4.4M124.6,111.4L126.3,111.0L126.8,109.8L127.3,111.0L129.0,111.4L127.3,111.9L126.8,113.0L126.3,111.9ZM131.87,111.42h4.0M133.87,109.22v4.4M138.7,111.4L140.4,111.0L140.9,109.8L141.4,111.0L143.1,111.4L141.4,111.9L140.9,113.0L140.4,111.9ZM146.01,111.42h4.0M148.01,109.22v4.4M152.9,111.4L154.6,111.0L155.1,109.8L155.6,111.0L157.3,111.4L155.6,111.9L155.1,113.0L154.6,111.9ZM160.16,111.42h4.0M162.16,109.22v4.4M167.0,111.4L168.7,111.0L169.2,109.8L169.7,111.0L171.4,111.4L169.7,111.9L169.2,113.0L168.7,111.9ZM174.31,111.42h4.0M176.31,109.22v4.4M181.2,111.4L182.9,111.0L183.4,109.8L183.9,111.0L185.6,111.4L183.9,111.9L183.4,113.0L182.9,111.9ZM188.45,111.42h4.0M190.45,109.22v4.4M195.3,111.4L197.0,111.0L197.5,109.8L198.0,111.0L199.7,111.4L198.0,111.9L197.5,113.0L197.0,111.9ZM202.60,111.42h4.0M204.60,109.22v4.4M209.5,111.4L211.2,111.0L211.7,109.8L212.2,111.0L213.9,111.4L212.2,111.9L211.7,113.0L211.2,111.9ZM216.74,111.42h4.0M218.74,109.22v4.4M223.6,111.4L225.3,111.0L225.8,109.8L226.3,111.0L228.0,111.4L226.3,111.9L225.8,113.0L225.3,111.9ZM230.89,111.42h4.0M232.89,109.22v4.4M18.70,118.56h4.0M20.70,116.36v4.4M25.6,118.6L27.3,118.1L27.8,117.0L28.3,118.1L30.0,118.6L28.3,119.0L27.8,120.2L27.3,119.0ZM32.85,118.56h4.0M34.85,116.36v4.4M39.7,118.6L41.4,118.1L41.9,117.0L42.4,118.1L44.1,118.6L42.4,119.0L41.9,120.2L41.4,119.0ZM46.99,118.56h4.0M48.99,116.36v4.4M53.9,118.6L55.6,118.1L56.1,117.0L56.6,118.1L58.3,118.6L56.6,119.0L56.1,120.2L55.6,119.0ZM61.14,118.56h4.0M63.14,116.36v4.4M68.0,118.6L69.7,118.1L70.2,117.0L70.7,118.1L72.4,118.6L70.7,119.0L70.2,120.2L69.7,119.0ZM75.28,118.56h4.0M77.28,116.36v4.4M82.2,118.6L83.9,118.1L84.4,117.0L84.9,118.1L86.6,118.6L84.9,119.0L84.4,120.2L83.9,119.0ZM89.43,118.56h4.0M91.43,116.36v4.4M96.3,118.6L98.0,118.1L98.5,117.0L99.0,118.1L100.7,118.6L99.0,119.0L98.5,120.2L98.0,119.0ZM103.58,118.56h4.0M105.58,116.36v4.4M110.4,118.6L112.1,118.1L112.6,117.0L113.1,118.1L114.8,118.6L113.1,119.0L112.6,120.2L112.1,119.0ZM117.72,118.56h4.0M119.72,116.36v4.4M124.6,118.6L126.3,118.1L126.8,117.0L127.3,118.1L129.0,118.6L127.3,119.0L126.8,120.2L126.3,119.0ZM131.87,118.56h4.0M133.87,116.36v4.4M138.7,118.6L140.4,118.1L140.9,117.0L141.4,118.1L143.1,118.6L141.4,119.0L140.9,120.2L140.4,119.0ZM146.01,118.56h4.0M148.01,116.36v4.4M152.9,118.6L154.6,118.1L155.1,117.0L155.6,118.1L157.3,118.6L155.6,119.0L155.1,120.2L154.6,119.0ZM160.16,118.56h4.0M162.16,116.36v4.4M167.0,118.6L168.7,118.1L169.2,117.0L169.7,118.1L171.4,118.6L169.7,119.0L169.2,120.2L168.7,119.0ZM174.31,118.56h4.0M176.31,116.36v4.4M181.2,118.6L182.9,118.1L183.4,117.0L183.9,118.1L185.6,118.6L183.9,119.0L183.4,120.2L182.9,119.0ZM188.45,118.56h4.0M190.45,116.36v4.4M195.3,118.6L197.0,118.1L197.5,117.0L198.0,118.1L199.7,118.6L198.0,119.0L197.5,120.2L197.0,119.0ZM202.60,118.56h4.0M204.60,116.36v4.4M209.5,118.6L211.2,118.1L211.7,117.0L212.2,118.1L213.9,118.6L212.2,119.0L211.7,120.2L211.2,119.0ZM216.74,118.56h4.0M218.74,116.36v4.4M223.6,118.6L225.3,118.1L225.8,117.0L226.3,118.1L228.0,118.6L226.3,119.0L225.8,120.2L225.3,119.0ZM230.89,118.56h4.0M232.89,116.36v4.4M18.70,125.70h4.0M20.70,123.50v4.4M25.6,125.7L27.3,125.2L27.8,124.1L28.3,125.2L30.0,125.7L28.3,126.1L27.8,127.3L27.3,126.1ZM32.85,125.70h4.0M34.85,123.50v4.4M39.7,125.7L41.4,125.2L41.9,124.1L42.4,125.2L44.1,125.7L42.4,126.1L41.9,127.3L41.4,126.1ZM46.99,125.70h4.0M48.99,123.50v4.4M53.9,125.7L55.6,125.2L56.1,124.1L56.6,125.2L58.3,125.7L56.6,126.1L56.1,127.3L55.6,126.1ZM61.14,125.70h4.0M63.14,123.50v4.4M68.0,125.7L69.7,125.2L70.2,124.1L70.7,125.2L72.4,125.7L70.7,126.1L70.2,127.3L69.7,126.1ZM75.28,125.70h4.0M77.28,123.50v4.4M82.2,125.7L83.9,125.2L84.4,124.1L84.9,125.2L86.6,125.7L84.9,126.1L84.4,127.3L83.9,126.1ZM89.43,125.70h4.0M91.43,123.50v4.4M96.3,125.7L98.0,125.2L98.5,124.1L99.0,125.2L100.7,125.7L99.0,126.1L98.5,127.3L98.0,126.1ZM103.58,125.70h4.0M105.58,123.50v4.4M110.4,125.7L112.1,125.2L112.6,124.1L113.1,125.2L114.8,125.7L113.1,126.1L112.6,127.3L112.1,126.1ZM117.72,125.70h4.0M119.72,123.50v4.4M124.6,125.7L126.3,125.2L126.8,124.1L127.3,125.2L129.0,125.7L127.3,126.1L126.8,127.3L126.3,126.1ZM131.87,125.70h4.0M133.87,123.50v4.4M138.7,125.7L140.4,125.2L140.9,124.1L141.4,125.2L143.1,125.7L141.4,126.1L140.9,127.3L140.4,126.1ZM146.01,125.70h4.0M148.01,123.50v4.4M152.9,125.7L154.6,125.2L155.1,124.1L155.6,125.2L157.3,125.7L155.6,126.1L155.1,127.3L154.6,126.1ZM160.16,125.70h4.0M162.16,123.50v4.4M167.0,125.7L168.7,125.2L169.2,124.1L169.7,125.2L171.4,125.7L169.7,126.1L169.2,127.3L168.7,126.1ZM174.31,125.70h4.0M176.31,123.50v4.4M181.2,125.7L182.9,125.2L183.4,124.1L183.9,125.2L185.6,125.7L183.9,126.1L183.4,127.3L182.9,126.1ZM188.45,125.70h4.0M190.45,123.50v4.4M195.3,125.7L197.0,125.2L197.5,124.1L198.0,125.2L199.7,125.7L198.0,126.1L197.5,127.3L197.0,126.1ZM202.60,125.70h4.0M204.60,123.50v4.4M209.5,125.7L211.2,125.2L211.7,124.1L212.2,125.2L213.9,125.7L212.2,126.1L211.7,127.3L211.2,126.1ZM216.74,125.70h4.0M218.74,123.50v4.4M223.6,125.7L225.3,125.2L225.8,124.1L226.3,125.2L228.0,125.7L226.3,126.1L225.8,127.3L225.3,126.1ZM230.89,125.70h4.0M232.89,123.50v4.4M18.70,132.84h4.0M20.70,130.64v4.4M25.6,132.8L27.3,132.4L27.8,131.2L28.3,132.4L30.0,132.8L28.3,133.3L27.8,134.4L27.3,133.3ZM32.85,132.84h4.0M34.85,130.64v4.4M39.7,132.8L41.4,132.4L41.9,131.2L42.4,132.4L44.1,132.8L42.4,133.3L41.9,134.4L41.4,133.3ZM46.99,132.84h4.0M48.99,130.64v4.4M53.9,132.8L55.6,132.4L56.1,131.2L56.6,132.4L58.3,132.8L56.6,133.3L56.1,134.4L55.6,133.3ZM61.14,132.84h4.0M63.14,130.64v4.4M68.0,132.8L69.7,132.4L70.2,131.2L70.7,132.4L72.4,132.8L70.7,133.3L70.2,134.4L69.7,133.3ZM75.28,132.84h4.0M77.28,130.64v4.4M82.2,132.8L83.9,132.4L84.4,131.2L84.9,132.4L86.6,132.8L84.9,133.3L84.4,134.4L83.9,133.3ZM89.43,132.84h4.0M91.43,130.64v4.4M96.3,132.8L98.0,132.4L98.5,131.2L99.0,132.4L100.7,132.8L99.0,133.3L98.5,134.4L98.0,133.3ZM103.58,132.84h4.0M105.58,130.64v4.4M110.4,132.8L112.1,132.4L112.6,131.2L113.1,132.4L114.8,132.8L113.1,133.3L112.6,134.4L112.1,133.3ZM117.72,132.84h4.0M119.72,130.64v4.4M124.6,132.8L126.3,132.4L126.8,131.2L127.3,132.4L129.0,132.8L127.3,133.3L126.8,134.4L126.3,133.3ZM131.87,132.84h4.0M133.87,130.64v4.4M138.7,132.8L140.4,132.4L140.9,131.2L141.4,132.4L143.1,132.8L141.4,133.3L140.9,134.4L140.4,133.3ZM146.01,132.84h4.0M148.01,130.64v4.4M152.9,132.8L154.6,132.4L155.1,131.2L155.6,132.4L157.3,132.8L155.6,133.3L155.1,134.4L154.6,133.3ZM160.16,132.84h4.0M162.16,130.64v4.4M167.0,132.8L168.7,132.4L169.2,131.2L169.7,132.4L171.4,132.8L169.7,133.3L169.2,134.4L168.7,133.3ZM174.31,132.84h4.0M176.31,130.64v4.4M181.2,132.8L182.9,132.4L183.4,131.2L183.9,132.4L185.6,132.8L183.9,133.3L183.4,134.4L182.9,133.3ZM188.45,132.84h4.0M190.45,130.64v4.4M195.3,132.8L197.0,132.4L197.5,131.2L198.0,132.4L199.7,132.8L198.0,133.3L197.5,134.4L197.0,133.3ZM202.60,132.84h4.0M204.60,130.64v4.4M209.5,132.8L211.2,132.4L211.7,131.2L212.2,132.4L213.9,132.8L212.2,133.3L211.7,134.4L211.2,133.3ZM216.74,132.84h4.0M218.74,130.64v4.4M223.6,132.8L225.3,132.4L225.8,131.2L226.3,132.4L228.0,132.8L226.3,133.3L225.8,134.4L225.3,133.3ZM230.89,132.84h4.0M232.89,130.64v4.4M18.70,139.98h4.0M20.70,137.78v4.4M25.6,140.0L27.3,139.5L27.8,138.4L28.3,139.5L30.0,140.0L28.3,140.4L27.8,141.6L27.3,140.4ZM32.85,139.98h4.0M34.85,137.78v4.4M39.7,140.0L41.4,139.5L41.9,138.4L42.4,139.5L44.1,140.0L42.4,140.4L41.9,141.6L41.4,140.4ZM46.99,139.98h4.0M48.99,137.78v4.4M53.9,140.0L55.6,139.5L56.1,138.4L56.6,139.5L58.3,140.0L56.6,140.4L56.1,141.6L55.6,140.4ZM61.14,139.98h4.0M63.14,137.78v4.4M68.0,140.0L69.7,139.5L70.2,138.4L70.7,139.5L72.4,140.0L70.7,140.4L70.2,141.6L69.7,140.4ZM75.28,139.98h4.0M77.28,137.78v4.4M82.2,140.0L83.9,139.5L84.4,138.4L84.9,139.5L86.6,140.0L84.9,140.4L84.4,141.6L83.9,140.4ZM89.43,139.98h4.0M91.43,137.78v4.4M96.3,140.0L98.0,139.5L98.5,138.4L99.0,139.5L100.7,140.0L99.0,140.4L98.5,141.6L98.0,140.4ZM103.58,139.98h4.0M105.58,137.78v4.4M110.4,140.0L112.1,139.5L112.6,138.4L113.1,139.5L114.8,140.0L113.1,140.4L112.6,141.6L112.1,140.4ZM117.72,139.98h4.0M119.72,137.78v4.4M124.6,140.0L126.3,139.5L126.8,138.4L127.3,139.5L129.0,140.0L127.3,140.4L126.8,141.6L126.3,140.4ZM131.87,139.98h4.0M133.87,137.78v4.4M138.7,140.0L140.4,139.5L140.9,138.4L141.4,139.5L143.1,140.0L141.4,140.4L140.9,141.6L140.4,140.4ZM146.01,139.98h4.0M148.01,137.78v4.4M152.9,140.0L154.6,139.5L155.1,138.4L155.6,139.5L157.3,140.0L155.6,140.4L155.1,141.6L154.6,140.4ZM160.16,139.98h4.0M162.16,137.78v4.4M167.0,140.0L168.7,139.5L169.2,138.4L169.7,139.5L171.4,140.0L169.7,140.4L169.2,141.6L168.7,140.4ZM174.31,139.98h4.0M176.31,137.78v4.4M181.2,140.0L182.9,139.5L183.4,138.4L183.9,139.5L185.6,140.0L183.9,140.4L183.4,141.6L182.9,140.4ZM188.45,139.98h4.0M190.45,137.78v4.4M195.3,140.0L197.0,139.5L197.5,138.4L198.0,139.5L199.7,140.0L198.0,140.4L197.5,141.6L197.0,140.4ZM202.60,139.98h4.0M204.60,137.78v4.4M209.5,140.0L211.2,139.5L211.7,138.4L212.2,139.5L213.9,140.0L212.2,140.4L211.7,141.6L211.2,140.4ZM216.74,139.98h4.0M218.74,137.78v4.4M223.6,140.0L225.3,139.5L225.8,138.4L226.3,139.5L228.0,140.0L226.3,140.4L225.8,141.6L225.3,140.4ZM230.89,139.98h4.0M232.89,137.78v4.4M18.70,147.12h4.0M20.70,144.92v4.4M25.6,147.1L27.3,146.7L27.8,145.5L28.3,146.7L30.0,147.1L28.3,147.6L27.8,148.7L27.3,147.6ZM32.85,147.12h4.0M34.85,144.92v4.4M39.7,147.1L41.4,146.7L41.9,145.5L42.4,146.7L44.1,147.1L42.4,147.6L41.9,148.7L41.4,147.6ZM46.99,147.12h4.0M48.99,144.92v4.4M53.9,147.1L55.6,146.7L56.1,145.5L56.6,146.7L58.3,147.1L56.6,147.6L56.1,148.7L55.6,147.6ZM61.14,147.12h4.0M63.14,144.92v4.4M68.0,147.1L69.7,146.7L70.2,145.5L70.7,146.7L72.4,147.1L70.7,147.6L70.2,148.7L69.7,147.6ZM75.28,147.12h4.0M77.28,144.92v4.4M82.2,147.1L83.9,146.7L84.4,145.5L84.9,146.7L86.6,147.1L84.9,147.6L84.4,148.7L83.9,147.6ZM89.43,147.12h4.0M91.43,144.92v4.4M96.3,147.1L98.0,146.7L98.5,145.5L99.0,146.7L100.7,147.1L99.0,147.6L98.5,148.7L98.0,147.6ZM103.58,147.12h4.0M105.58,144.92v4.4M110.4,147.1L112.1,146.7L112.6,145.5L113.1,146.7L114.8,147.1L113.1,147.6L112.6,148.7L112.1,147.6ZM117.72,147.12h4.0M119.72,144.92v4.4M124.6,147.1L126.3,146.7L126.8,145.5L127.3,146.7L129.0,147.1L127.3,147.6L126.8,148.7L126.3,147.6ZM131.87,147.12h4.0M133.87,144.92v4.4M138.7,147.1L140.4,146.7L140.9,145.5L141.4,146.7L143.1,147.1L141.4,147.6L140.9,148.7L140.4,147.6ZM146.01,147.12h4.0M148.01,144.92v4.4M152.9,147.1L154.6,146.7L155.1,145.5L155.6,146.7L157.3,147.1L155.6,147.6L155.1,148.7L154.6,147.6ZM160.16,147.12h4.0M162.16,144.92v4.4M167.0,147.1L168.7,146.7L169.2,145.5L169.7,146.7L171.4,147.1L169.7,147.6L169.2,148.7L168.7,147.6ZM174.31,147.12h4.0M176.31,144.92v4.4M181.2,147.1L182.9,146.7L183.4,145.5L183.9,146.7L185.6,147.1L183.9,147.6L183.4,148.7L182.9,147.6ZM188.45,147.12h4.0M190.45,144.92v4.4M195.3,147.1L197.0,146.7L197.5,145.5L198.0,146.7L199.7,147.1L198.0,147.6L197.5,148.7L197.0,147.6ZM202.60,147.12h4.0M204.60,144.92v4.4M209.5,147.1L211.2,146.7L211.7,145.5L212.2,146.7L213.9,147.1L212.2,147.6L211.7,148.7L211.2,147.6ZM216.74,147.12h4.0M218.74,144.92v4.4M223.6,147.1L225.3,146.7L225.8,145.5L226.3,146.7L228.0,147.1L226.3,147.6L225.8,148.7L225.3,147.6ZM230.89,147.12h4.0M232.89,144.92v4.4M18.70,154.26h4.0M20.70,152.06v4.4M25.6,154.3L27.3,153.8L27.8,152.7L28.3,153.8L30.0,154.3L28.3,154.7L27.8,155.9L27.3,154.7ZM32.85,154.26h4.0M34.85,152.06v4.4M39.7,154.3L41.4,153.8L41.9,152.7L42.4,153.8L44.1,154.3L42.4,154.7L41.9,155.9L41.4,154.7ZM46.99,154.26h4.0M48.99,152.06v4.4M53.9,154.3L55.6,153.8L56.1,152.7L56.6,153.8L58.3,154.3L56.6,154.7L56.1,155.9L55.6,154.7ZM61.14,154.26h4.0M63.14,152.06v4.4M68.0,154.3L69.7,153.8L70.2,152.7L70.7,153.8L72.4,154.3L70.7,154.7L70.2,155.9L69.7,154.7ZM75.28,154.26h4.0M77.28,152.06v4.4M82.2,154.3L83.9,153.8L84.4,152.7L84.9,153.8L86.6,154.3L84.9,154.7L84.4,155.9L83.9,154.7ZM89.43,154.26h4.0M91.43,152.06v4.4M96.3,154.3L98.0,153.8L98.5,152.7L99.0,153.8L100.7,154.3L99.0,154.7L98.5,155.9L98.0,154.7ZM103.58,154.26h4.0M105.58,152.06v4.4M110.4,154.3L112.1,153.8L112.6,152.7L113.1,153.8L114.8,154.3L113.1,154.7L112.6,155.9L112.1,154.7ZM117.72,154.26h4.0M119.72,152.06v4.4M124.6,154.3L126.3,153.8L126.8,152.7L127.3,153.8L129.0,154.3L127.3,154.7L126.8,155.9L126.3,154.7ZM131.87,154.26h4.0M133.87,152.06v4.4M138.7,154.3L140.4,153.8L140.9,152.7L141.4,153.8L143.1,154.3L141.4,154.7L140.9,155.9L140.4,154.7ZM146.01,154.26h4.0M148.01,152.06v4.4M152.9,154.3L154.6,153.8L155.1,152.7L155.6,153.8L157.3,154.3L155.6,154.7L155.1,155.9L154.6,154.7ZM160.16,154.26h4.0M162.16,152.06v4.4M167.0,154.3L168.7,153.8L169.2,152.7L169.7,153.8L171.4,154.3L169.7,154.7L169.2,155.9L168.7,154.7ZM174.31,154.26h4.0M176.31,152.06v4.4M181.2,154.3L182.9,153.8L183.4,152.7L183.9,153.8L185.6,154.3L183.9,154.7L183.4,155.9L182.9,154.7ZM188.45,154.26h4.0M190.45,152.06v4.4M195.3,154.3L197.0,153.8L197.5,152.7L198.0,153.8L199.7,154.3L198.0,154.7L197.5,155.9L197.0,154.7ZM202.60,154.26h4.0M204.60,152.06v4.4M209.5,154.3L211.2,153.8L211.7,152.7L212.2,153.8L213.9,154.3L212.2,154.7L211.7,155.9L211.2,154.7ZM216.74,154.26h4.0M218.74,152.06v4.4M223.6,154.3L225.3,153.8L225.8,152.7L226.3,153.8L228.0,154.3L226.3,154.7L225.8,155.9L225.3,154.7ZM230.89,154.26h4.0M232.89,152.06v4.4M18.70,161.40h4.0M20.70,159.20v4.4M25.6,161.4L27.3,160.9L27.8,159.8L28.3,160.9L30.0,161.4L28.3,161.8L27.8,163.0L27.3,161.8ZM32.85,161.40h4.0M34.85,159.20v4.4M39.7,161.4L41.4,160.9L41.9,159.8L42.4,160.9L44.1,161.4L42.4,161.8L41.9,163.0L41.4,161.8ZM46.99,161.40h4.0M48.99,159.20v4.4M53.9,161.4L55.6,160.9L56.1,159.8L56.6,160.9L58.3,161.4L56.6,161.8L56.1,163.0L55.6,161.8ZM61.14,161.40h4.0M63.14,159.20v4.4M68.0,161.4L69.7,160.9L70.2,159.8L70.7,160.9L72.4,161.4L70.7,161.8L70.2,163.0L69.7,161.8ZM75.28,161.40h4.0M77.28,159.20v4.4M82.2,161.4L83.9,160.9L84.4,159.8L84.9,160.9L86.6,161.4L84.9,161.8L84.4,163.0L83.9,161.8ZM89.43,161.40h4.0M91.43,159.20v4.4M96.3,161.4L98.0,160.9L98.5,159.8L99.0,160.9L100.7,161.4L99.0,161.8L98.5,163.0L98.0,161.8ZM103.58,161.40h4.0M105.58,159.20v4.4M110.4,161.4L112.1,160.9L112.6,159.8L113.1,160.9L114.8,161.4L113.1,161.8L112.6,163.0L112.1,161.8ZM117.72,161.40h4.0M119.72,159.20v4.4M124.6,161.4L126.3,160.9L126.8,159.8L127.3,160.9L129.0,161.4L127.3,161.8L126.8,163.0L126.3,161.8ZM131.87,161.40h4.0M133.87,159.20v4.4M138.7,161.4L140.4,160.9L140.9,159.8L141.4,160.9L143.1,161.4L141.4,161.8L140.9,163.0L140.4,161.8ZM146.01,161.40h4.0M148.01,159.20v4.4M152.9,161.4L154.6,160.9L155.1,159.8L155.6,160.9L157.3,161.4L155.6,161.8L155.1,163.0L154.6,161.8ZM160.16,161.40h4.0M162.16,159.20v4.4M167.0,161.4L168.7,160.9L169.2,159.8L169.7,160.9L171.4,161.4L169.7,161.8L169.2,163.0L168.7,161.8ZM174.31,161.40h4.0M176.31,159.20v4.4M181.2,161.4L182.9,160.9L183.4,159.8L183.9,160.9L185.6,161.4L183.9,161.8L183.4,163.0L182.9,161.8ZM188.45,161.40h4.0M190.45,159.20v4.4M195.3,161.4L197.0,160.9L197.5,159.8L198.0,160.9L199.7,161.4L198.0,161.8L197.5,163.0L197.0,161.8ZM202.60,161.40h4.0M204.60,159.20v4.4M209.5,161.4L211.2,160.9L211.7,159.8L212.2,160.9L213.9,161.4L212.2,161.8L211.7,163.0L211.2,161.8ZM216.74,161.40h4.0M218.74,159.20v4.4M223.6,161.4L225.3,160.9L225.8,159.8L226.3,160.9L228.0,161.4L226.3,161.8L225.8,163.0L225.3,161.8ZM230.89,161.40h4.0M232.89,159.20v4.4M18.70,168.54h4.0M20.70,166.34v4.4M25.6,168.5L27.3,168.1L27.8,166.9L28.3,168.1L30.0,168.5L28.3,169.0L27.8,170.1L27.3,169.0ZM32.85,168.54h4.0M34.85,166.34v4.4M39.7,168.5L41.4,168.1L41.9,166.9L42.4,168.1L44.1,168.5L42.4,169.0L41.9,170.1L41.4,169.0ZM46.99,168.54h4.0M48.99,166.34v4.4M53.9,168.5L55.6,168.1L56.1,166.9L56.6,168.1L58.3,168.5L56.6,169.0L56.1,170.1L55.6,169.0ZM61.14,168.54h4.0M63.14,166.34v4.4M68.0,168.5L69.7,168.1L70.2,166.9L70.7,168.1L72.4,168.5L70.7,169.0L70.2,170.1L69.7,169.0ZM75.28,168.54h4.0M77.28,166.34v4.4M82.2,168.5L83.9,168.1L84.4,166.9L84.9,168.1L86.6,168.5L84.9,169.0L84.4,170.1L83.9,169.0ZM89.43,168.54h4.0M91.43,166.34v4.4M96.3,168.5L98.0,168.1L98.5,166.9L99.0,168.1L100.7,168.5L99.0,169.0L98.5,170.1L98.0,169.0ZM103.58,168.54h4.0M105.58,166.34v4.4M110.4,168.5L112.1,168.1L112.6,166.9L113.1,168.1L114.8,168.5L113.1,169.0L112.6,170.1L112.1,169.0ZM117.72,168.54h4.0M119.72,166.34v4.4M124.6,168.5L126.3,168.1L126.8,166.9L127.3,168.1L129.0,168.5L127.3,169.0L126.8,170.1L126.3,169.0ZM131.87,168.54h4.0M133.87,166.34v4.4M138.7,168.5L140.4,168.1L140.9,166.9L141.4,168.1L143.1,168.5L141.4,169.0L140.9,170.1L140.4,169.0ZM146.01,168.54h4.0M148.01,166.34v4.4M152.9,168.5L154.6,168.1L155.1,166.9L155.6,168.1L157.3,168.5L155.6,169.0L155.1,170.1L154.6,169.0ZM160.16,168.54h4.0M162.16,166.34v4.4M167.0,168.5L168.7,168.1L169.2,166.9L169.7,168.1L171.4,168.5L169.7,169.0L169.2,170.1L168.7,169.0ZM174.31,168.54h4.0M176.31,166.34v4.4M181.2,168.5L182.9,168.1L183.4,166.9L183.9,168.1L185.6,168.5L183.9,169.0L183.4,170.1L182.9,169.0ZM188.45,168.54h4.0M190.45,166.34v4.4M195.3,168.5L197.0,168.1L197.5,166.9L198.0,168.1L199.7,168.5L198.0,169.0L197.5,170.1L197.0,169.0ZM202.60,168.54h4.0M204.60,166.34v4.4M209.5,168.5L211.2,168.1L211.7,166.9L212.2,168.1L213.9,168.5L212.2,169.0L211.7,170.1L211.2,169.0ZM216.74,168.54h4.0M218.74,166.34v4.4M223.6,168.5L225.3,168.1L225.8,166.9L226.3,168.1L228.0,168.5L226.3,169.0L225.8,170.1L225.3,169.0ZM230.89,168.54h4.0M232.89,166.34v4.4M18.70,175.68h4.0M20.70,173.48v4.4M25.6,175.7L27.3,175.2L27.8,174.1L28.3,175.2L30.0,175.7L28.3,176.1L27.8,177.3L27.3,176.1ZM32.85,175.68h4.0M34.85,173.48v4.4M39.7,175.7L41.4,175.2L41.9,174.1L42.4,175.2L44.1,175.7L42.4,176.1L41.9,177.3L41.4,176.1ZM46.99,175.68h4.0M48.99,173.48v4.4M53.9,175.7L55.6,175.2L56.1,174.1L56.6,175.2L58.3,175.7L56.6,176.1L56.1,177.3L55.6,176.1ZM61.14,175.68h4.0M63.14,173.48v4.4M68.0,175.7L69.7,175.2L70.2,174.1L70.7,175.2L72.4,175.7L70.7,176.1L70.2,177.3L69.7,176.1ZM75.28,175.68h4.0M77.28,173.48v4.4M82.2,175.7L83.9,175.2L84.4,174.1L84.9,175.2L86.6,175.7L84.9,176.1L84.4,177.3L83.9,176.1ZM89.43,175.68h4.0M91.43,173.48v4.4M96.3,175.7L98.0,175.2L98.5,174.1L99.0,175.2L100.7,175.7L99.0,176.1L98.5,177.3L98.0,176.1ZM103.58,175.68h4.0M105.58,173.48v4.4M110.4,175.7L112.1,175.2L112.6,174.1L113.1,175.2L114.8,175.7L113.1,176.1L112.6,177.3L112.1,176.1ZM117.72,175.68h4.0M119.72,173.48v4.4M124.6,175.7L126.3,175.2L126.8,174.1L127.3,175.2L129.0,175.7L127.3,176.1L126.8,177.3L126.3,176.1ZM131.87,175.68h4.0M133.87,173.48v4.4M138.7,175.7L140.4,175.2L140.9,174.1L141.4,175.2L143.1,175.7L141.4,176.1L140.9,177.3L140.4,176.1ZM146.01,175.68h4.0M148.01,173.48v4.4M152.9,175.7L154.6,175.2L155.1,174.1L155.6,175.2L157.3,175.7L155.6,176.1L155.1,177.3L154.6,176.1ZM160.16,175.68h4.0M162.16,173.48v4.4M167.0,175.7L168.7,175.2L169.2,174.1L169.7,175.2L171.4,175.7L169.7,176.1L169.2,177.3L168.7,176.1ZM174.31,175.68h4.0M176.31,173.48v4.4M181.2,175.7L182.9,175.2L183.4,174.1L183.9,175.2L185.6,175.7L183.9,176.1L183.4,177.3L182.9,176.1ZM188.45,175.68h4.0M190.45,173.48v4.4M195.3,175.7L197.0,175.2L197.5,174.1L198.0,175.2L199.7,175.7L198.0,176.1L197.5,177.3L197.0,176.1ZM202.60,175.68h4.0M204.60,173.48v4.4M209.5,175.7L211.2,175.2L211.7,174.1L212.2,175.2L213.9,175.7L212.2,176.1L211.7,177.3L211.2,176.1ZM216.74,175.68h4.0M218.74,173.48v4.4M223.6,175.7L225.3,175.2L225.8,174.1L226.3,175.2L228.0,175.7L226.3,176.1L225.8,177.3L225.3,176.1ZM230.89,175.68h4.0M232.89,173.48v4.4M18.70,182.82h4.0M20.70,180.62v4.4M25.6,182.8L27.3,182.4L27.8,181.2L28.3,182.4L30.0,182.8L28.3,183.3L27.8,184.4L27.3,183.3ZM32.85,182.82h4.0M34.85,180.62v4.4M39.7,182.8L41.4,182.4L41.9,181.2L42.4,182.4L44.1,182.8L42.4,183.3L41.9,184.4L41.4,183.3ZM46.99,182.82h4.0M48.99,180.62v4.4M53.9,182.8L55.6,182.4L56.1,181.2L56.6,182.4L58.3,182.8L56.6,183.3L56.1,184.4L55.6,183.3ZM61.14,182.82h4.0M63.14,180.62v4.4M68.0,182.8L69.7,182.4L70.2,181.2L70.7,182.4L72.4,182.8L70.7,183.3L70.2,184.4L69.7,183.3ZM75.28,182.82h4.0M77.28,180.62v4.4M82.2,182.8L83.9,182.4L84.4,181.2L84.9,182.4L86.6,182.8L84.9,183.3L84.4,184.4L83.9,183.3ZM89.43,182.82h4.0M91.43,180.62v4.4M96.3,182.8L98.0,182.4L98.5,181.2L99.0,182.4L100.7,182.8L99.0,183.3L98.5,184.4L98.0,183.3ZM103.58,182.82h4.0M105.58,180.62v4.4M110.4,182.8L112.1,182.4L112.6,181.2L113.1,182.4L114.8,182.8L113.1,183.3L112.6,184.4L112.1,183.3ZM117.72,182.82h4.0M119.72,180.62v4.4M124.6,182.8L126.3,182.4L126.8,181.2L127.3,182.4L129.0,182.8L127.3,183.3L126.8,184.4L126.3,183.3ZM131.87,182.82h4.0M133.87,180.62v4.4M138.7,182.8L140.4,182.4L140.9,181.2L141.4,182.4L143.1,182.8L141.4,183.3L140.9,184.4L140.4,183.3ZM146.01,182.82h4.0M148.01,180.62v4.4M152.9,182.8L154.6,182.4L155.1,181.2L155.6,182.4L157.3,182.8L155.6,183.3L155.1,184.4L154.6,183.3ZM160.16,182.82h4.0M162.16,180.62v4.4M167.0,182.8L168.7,182.4L169.2,181.2L169.7,182.4L171.4,182.8L169.7,183.3L169.2,184.4L168.7,183.3ZM174.31,182.82h4.0M176.31,180.62v4.4M181.2,182.8L182.9,182.4L183.4,181.2L183.9,182.4L185.6,182.8L183.9,183.3L183.4,184.4L182.9,183.3ZM188.45,182.82h4.0M190.45,180.62v4.4M195.3,182.8L197.0,182.4L197.5,181.2L198.0,182.4L199.7,182.8L198.0,183.3L197.5,184.4L197.0,183.3ZM202.60,182.82h4.0M204.60,180.62v4.4M209.5,182.8L211.2,182.4L211.7,181.2L212.2,182.4L213.9,182.8L212.2,183.3L211.7,184.4L211.2,183.3ZM216.74,182.82h4.0M218.74,180.62v4.4M223.6,182.8L225.3,182.4L225.8,181.2L226.3,182.4L228.0,182.8L226.3,183.3L225.8,184.4L225.3,183.3ZM230.89,182.82h4.0M232.89,180.62v4.4M18.70,189.96h4.0M20.70,187.76v4.4M25.6,190.0L27.3,189.5L27.8,188.4L28.3,189.5L30.0,190.0L28.3,190.4L27.8,191.6L27.3,190.4ZM32.85,189.96h4.0M34.85,187.76v4.4M39.7,190.0L41.4,189.5L41.9,188.4L42.4,189.5L44.1,190.0L42.4,190.4L41.9,191.6L41.4,190.4ZM46.99,189.96h4.0M48.99,187.76v4.4M53.9,190.0L55.6,189.5L56.1,188.4L56.6,189.5L58.3,190.0L56.6,190.4L56.1,191.6L55.6,190.4ZM61.14,189.96h4.0M63.14,187.76v4.4M68.0,190.0L69.7,189.5L70.2,188.4L70.7,189.5L72.4,190.0L70.7,190.4L70.2,191.6L69.7,190.4ZM75.28,189.96h4.0M77.28,187.76v4.4M82.2,190.0L83.9,189.5L84.4,188.4L84.9,189.5L86.6,190.0L84.9,190.4L84.4,191.6L83.9,190.4ZM89.43,189.96h4.0M91.43,187.76v4.4M96.3,190.0L98.0,189.5L98.5,188.4L99.0,189.5L100.7,190.0L99.0,190.4L98.5,191.6L98.0,190.4ZM103.58,189.96h4.0M105.58,187.76v4.4M110.4,190.0L112.1,189.5L112.6,188.4L113.1,189.5L114.8,190.0L113.1,190.4L112.6,191.6L112.1,190.4ZM117.72,189.96h4.0M119.72,187.76v4.4M124.6,190.0L126.3,189.5L126.8,188.4L127.3,189.5L129.0,190.0L127.3,190.4L126.8,191.6L126.3,190.4ZM131.87,189.96h4.0M133.87,187.76v4.4M138.7,190.0L140.4,189.5L140.9,188.4L141.4,189.5L143.1,190.0L141.4,190.4L140.9,191.6L140.4,190.4ZM146.01,189.96h4.0M148.01,187.76v4.4M152.9,190.0L154.6,189.5L155.1,188.4L155.6,189.5L157.3,190.0L155.6,190.4L155.1,191.6L154.6,190.4ZM160.16,189.96h4.0M162.16,187.76v4.4M167.0,190.0L168.7,189.5L169.2,188.4L169.7,189.5L171.4,190.0L169.7,190.4L169.2,191.6L168.7,190.4ZM174.31,189.96h4.0M176.31,187.76v4.4M181.2,190.0L182.9,189.5L183.4,188.4L183.9,189.5L185.6,190.0L183.9,190.4L183.4,191.6L182.9,190.4ZM188.45,189.96h4.0M190.45,187.76v4.4M195.3,190.0L197.0,189.5L197.5,188.4L198.0,189.5L199.7,190.0L198.0,190.4L197.5,191.6L197.0,190.4ZM202.60,189.96h4.0M204.60,187.76v4.4M209.5,190.0L211.2,189.5L211.7,188.4L212.2,189.5L213.9,190.0L212.2,190.4L211.7,191.6L211.2,190.4ZM216.74,189.96h4.0M218.74,187.76v4.4M223.6,190.0L225.3,189.5L225.8,188.4L226.3,189.5L228.0,190.0L226.3,190.4L225.8,191.6L225.3,190.4ZM230.89,189.96h4.0M232.89,187.76v4.4M18.70,197.10h4.0M20.70,194.90v4.4M25.6,197.1L27.3,196.7L27.8,195.5L28.3,196.7L30.0,197.1L28.3,197.5L27.8,198.7L27.3,197.5ZM32.85,197.10h4.0M34.85,194.90v4.4M39.7,197.1L41.4,196.7L41.9,195.5L42.4,196.7L44.1,197.1L42.4,197.5L41.9,198.7L41.4,197.5ZM46.99,197.10h4.0M48.99,194.90v4.4M53.9,197.1L55.6,196.7L56.1,195.5L56.6,196.7L58.3,197.1L56.6,197.5L56.1,198.7L55.6,197.5ZM61.14,197.10h4.0M63.14,194.90v4.4M68.0,197.1L69.7,196.7L70.2,195.5L70.7,196.7L72.4,197.1L70.7,197.5L70.2,198.7L69.7,197.5ZM75.28,197.10h4.0M77.28,194.90v4.4M82.2,197.1L83.9,196.7L84.4,195.5L84.9,196.7L86.6,197.1L84.9,197.5L84.4,198.7L83.9,197.5ZM89.43,197.10h4.0M91.43,194.90v4.4M96.3,197.1L98.0,196.7L98.5,195.5L99.0,196.7L100.7,197.1L99.0,197.5L98.5,198.7L98.0,197.5ZM103.58,197.10h4.0M105.58,194.90v4.4M110.4,197.1L112.1,196.7L112.6,195.5L113.1,196.7L114.8,197.1L113.1,197.5L112.6,198.7L112.1,197.5ZM117.72,197.10h4.0M119.72,194.90v4.4M124.6,197.1L126.3,196.7L126.8,195.5L127.3,196.7L129.0,197.1L127.3,197.5L126.8,198.7L126.3,197.5ZM131.87,197.10h4.0M133.87,194.90v4.4M138.7,197.1L140.4,196.7L140.9,195.5L141.4,196.7L143.1,197.1L141.4,197.5L140.9,198.7L140.4,197.5ZM146.01,197.10h4.0M148.01,194.90v4.4M152.9,197.1L154.6,196.7L155.1,195.5L155.6,196.7L157.3,197.1L155.6,197.5L155.1,198.7L154.6,197.5ZM160.16,197.10h4.0M162.16,194.90v4.4M167.0,197.1L168.7,196.7L169.2,195.5L169.7,196.7L171.4,197.1L169.7,197.5L169.2,198.7L168.7,197.5ZM174.31,197.10h4.0M176.31,194.90v4.4M181.2,197.1L182.9,196.7L183.4,195.5L183.9,196.7L185.6,197.1L183.9,197.5L183.4,198.7L182.9,197.5ZM188.45,197.10h4.0M190.45,194.90v4.4M195.3,197.1L197.0,196.7L197.5,195.5L198.0,196.7L199.7,197.1L198.0,197.5L197.5,198.7L197.0,197.5ZM202.60,197.10h4.0M204.60,194.90v4.4M209.5,197.1L211.2,196.7L211.7,195.5L212.2,196.7L213.9,197.1L212.2,197.5L211.7,198.7L211.2,197.5ZM216.74,197.10h4.0M218.74,194.90v4.4M223.6,197.1L225.3,196.7L225.8,195.5L226.3,196.7L228.0,197.1L226.3,197.5L225.8,198.7L225.3,197.5ZM230.89,197.10h4.0M232.89,194.90v4.4M18.70,204.24h4.0M20.70,202.04v4.4M25.6,204.2L27.3,203.8L27.8,202.6L28.3,203.8L30.0,204.2L28.3,204.7L27.8,205.8L27.3,204.7ZM32.85,204.24h4.0M34.85,202.04v4.4M39.7,204.2L41.4,203.8L41.9,202.6L42.4,203.8L44.1,204.2L42.4,204.7L41.9,205.8L41.4,204.7ZM46.99,204.24h4.0M48.99,202.04v4.4M53.9,204.2L55.6,203.8L56.1,202.6L56.6,203.8L58.3,204.2L56.6,204.7L56.1,205.8L55.6,204.7ZM61.14,204.24h4.0M63.14,202.04v4.4M68.0,204.2L69.7,203.8L70.2,202.6L70.7,203.8L72.4,204.2L70.7,204.7L70.2,205.8L69.7,204.7ZM75.28,204.24h4.0M77.28,202.04v4.4M82.2,204.2L83.9,203.8L84.4,202.6L84.9,203.8L86.6,204.2L84.9,204.7L84.4,205.8L83.9,204.7ZM89.43,204.24h4.0M91.43,202.04v4.4M96.3,204.2L98.0,203.8L98.5,202.6L99.0,203.8L100.7,204.2L99.0,204.7L98.5,205.8L98.0,204.7ZM103.58,204.24h4.0M105.58,202.04v4.4M110.4,204.2L112.1,203.8L112.6,202.6L113.1,203.8L114.8,204.2L113.1,204.7L112.6,205.8L112.1,204.7ZM117.72,204.24h4.0M119.72,202.04v4.4M124.6,204.2L126.3,203.8L126.8,202.6L127.3,203.8L129.0,204.2L127.3,204.7L126.8,205.8L126.3,204.7ZM131.87,204.24h4.0M133.87,202.04v4.4M138.7,204.2L140.4,203.8L140.9,202.6L141.4,203.8L143.1,204.2L141.4,204.7L140.9,205.8L140.4,204.7ZM146.01,204.24h4.0M148.01,202.04v4.4M152.9,204.2L154.6,203.8L155.1,202.6L155.6,203.8L157.3,204.2L155.6,204.7L155.1,205.8L154.6,204.7ZM160.16,204.24h4.0M162.16,202.04v4.4M167.0,204.2L168.7,203.8L169.2,202.6L169.7,203.8L171.4,204.2L169.7,204.7L169.2,205.8L168.7,204.7ZM174.31,204.24h4.0M176.31,202.04v4.4M181.2,204.2L182.9,203.8L183.4,202.6L183.9,203.8L185.6,204.2L183.9,204.7L183.4,205.8L182.9,204.7ZM188.45,204.24h4.0M190.45,202.04v4.4M195.3,204.2L197.0,203.8L197.5,202.6L198.0,203.8L199.7,204.2L198.0,204.7L197.5,205.8L197.0,204.7ZM202.60,204.24h4.0M204.60,202.04v4.4M209.5,204.2L211.2,203.8L211.7,202.6L212.2,203.8L213.9,204.2L212.2,204.7L211.7,205.8L211.2,204.7ZM216.74,204.24h4.0M218.74,202.04v4.4M223.6,204.2L225.3,203.8L225.8,202.6L226.3,203.8L228.0,204.2L226.3,204.7L225.8,205.8L225.3,204.7ZM230.89,204.24h4.0M232.89,202.04v4.4M18.70,211.38h4.0M20.70,209.18v4.4M25.6,211.4L27.3,210.9L27.8,209.8L28.3,210.9L30.0,211.4L28.3,211.8L27.8,213.0L27.3,211.8ZM32.85,211.38h4.0M34.85,209.18v4.4M39.7,211.4L41.4,210.9L41.9,209.8L42.4,210.9L44.1,211.4L42.4,211.8L41.9,213.0L41.4,211.8ZM46.99,211.38h4.0M48.99,209.18v4.4M53.9,211.4L55.6,210.9L56.1,209.8L56.6,210.9L58.3,211.4L56.6,211.8L56.1,213.0L55.6,211.8ZM61.14,211.38h4.0M63.14,209.18v4.4M68.0,211.4L69.7,210.9L70.2,209.8L70.7,210.9L72.4,211.4L70.7,211.8L70.2,213.0L69.7,211.8ZM75.28,211.38h4.0M77.28,209.18v4.4M82.2,211.4L83.9,210.9L84.4,209.8L84.9,210.9L86.6,211.4L84.9,211.8L84.4,213.0L83.9,211.8ZM89.43,211.38h4.0M91.43,209.18v4.4M96.3,211.4L98.0,210.9L98.5,209.8L99.0,210.9L100.7,211.4L99.0,211.8L98.5,213.0L98.0,211.8ZM103.58,211.38h4.0M105.58,209.18v4.4M110.4,211.4L112.1,210.9L112.6,209.8L113.1,210.9L114.8,211.4L113.1,211.8L112.6,213.0L112.1,211.8ZM117.72,211.38h4.0M119.72,209.18v4.4M124.6,211.4L126.3,210.9L126.8,209.8L127.3,210.9L129.0,211.4L127.3,211.8L126.8,213.0L126.3,211.8ZM131.87,211.38h4.0M133.87,209.18v4.4M138.7,211.4L140.4,210.9L140.9,209.8L141.4,210.9L143.1,211.4L141.4,211.8L140.9,213.0L140.4,211.8ZM146.01,211.38h4.0M148.01,209.18v4.4M152.9,211.4L154.6,210.9L155.1,209.8L155.6,210.9L157.3,211.4L155.6,211.8L155.1,213.0L154.6,211.8ZM160.16,211.38h4.0M162.16,209.18v4.4M167.0,211.4L168.7,210.9L169.2,209.8L169.7,210.9L171.4,211.4L169.7,211.8L169.2,213.0L168.7,211.8ZM174.31,211.38h4.0M176.31,209.18v4.4M181.2,211.4L182.9,210.9L183.4,209.8L183.9,210.9L185.6,211.4L183.9,211.8L183.4,213.0L182.9,211.8ZM188.45,211.38h4.0M190.45,209.18v4.4M195.3,211.4L197.0,210.9L197.5,209.8L198.0,210.9L199.7,211.4L198.0,211.8L197.5,213.0L197.0,211.8ZM202.60,211.38h4.0M204.60,209.18v4.4M209.5,211.4L211.2,210.9L211.7,209.8L212.2,210.9L213.9,211.4L212.2,211.8L211.7,213.0L211.2,211.8ZM216.74,211.38h4.0M218.74,209.18v4.4M223.6,211.4L225.3,210.9L225.8,209.8L226.3,210.9L228.0,211.4L226.3,211.8L225.8,213.0L225.3,211.8ZM230.89,211.38h4.0M232.89,209.18v4.4M18.70,218.52h4.0M20.70,216.32v4.4M25.6,218.5L27.3,218.1L27.8,216.9L28.3,218.1L30.0,218.5L28.3,219.0L27.8,220.1L27.3,219.0ZM32.85,218.52h4.0M34.85,216.32v4.4M39.7,218.5L41.4,218.1L41.9,216.9L42.4,218.1L44.1,218.5L42.4,219.0L41.9,220.1L41.4,219.0ZM46.99,218.52h4.0M48.99,216.32v4.4M53.9,218.5L55.6,218.1L56.1,216.9L56.6,218.1L58.3,218.5L56.6,219.0L56.1,220.1L55.6,219.0ZM61.14,218.52h4.0M63.14,216.32v4.4M68.0,218.5L69.7,218.1L70.2,216.9L70.7,218.1L72.4,218.5L70.7,219.0L70.2,220.1L69.7,219.0ZM75.28,218.52h4.0M77.28,216.32v4.4M82.2,218.5L83.9,218.1L84.4,216.9L84.9,218.1L86.6,218.5L84.9,219.0L84.4,220.1L83.9,219.0ZM89.43,218.52h4.0M91.43,216.32v4.4M96.3,218.5L98.0,218.1L98.5,216.9L99.0,218.1L100.7,218.5L99.0,219.0L98.5,220.1L98.0,219.0ZM103.58,218.52h4.0M105.58,216.32v4.4M110.4,218.5L112.1,218.1L112.6,216.9L113.1,218.1L114.8,218.5L113.1,219.0L112.6,220.1L112.1,219.0ZM117.72,218.52h4.0M119.72,216.32v4.4M124.6,218.5L126.3,218.1L126.8,216.9L127.3,218.1L129.0,218.5L127.3,219.0L126.8,220.1L126.3,219.0ZM131.87,218.52h4.0M133.87,216.32v4.4M138.7,218.5L140.4,218.1L140.9,216.9L141.4,218.1L143.1,218.5L141.4,219.0L140.9,220.1L140.4,219.0ZM146.01,218.52h4.0M148.01,216.32v4.4M152.9,218.5L154.6,218.1L155.1,216.9L155.6,218.1L157.3,218.5L155.6,219.0L155.1,220.1L154.6,219.0ZM160.16,218.52h4.0M162.16,216.32v4.4M167.0,218.5L168.7,218.1L169.2,216.9L169.7,218.1L171.4,218.5L169.7,219.0L169.2,220.1L168.7,219.0ZM174.31,218.52h4.0M176.31,216.32v4.4M181.2,218.5L182.9,218.1L183.4,216.9L183.9,218.1L185.6,218.5L183.9,219.0L183.4,220.1L182.9,219.0ZM188.45,218.52h4.0M190.45,216.32v4.4M195.3,218.5L197.0,218.1L197.5,216.9L198.0,218.1L199.7,218.5L198.0,219.0L197.5,220.1L197.0,219.0ZM202.60,218.52h4.0M204.60,216.32v4.4M209.5,218.5L211.2,218.1L211.7,216.9L212.2,218.1L213.9,218.5L212.2,219.0L211.7,220.1L211.2,219.0ZM216.74,218.52h4.0M218.74,216.32v4.4M223.6,218.5L225.3,218.1L225.8,216.9L226.3,218.1L228.0,218.5L226.3,219.0L225.8,220.1L225.3,219.0ZM230.89,218.52h4.0M232.89,216.32v4.4M18.70,225.66h4.0M20.70,223.46v4.4M25.6,225.7L27.3,225.2L27.8,224.1L28.3,225.2L30.0,225.7L28.3,226.1L27.8,227.3L27.3,226.1ZM32.85,225.66h4.0M34.85,223.46v4.4M39.7,225.7L41.4,225.2L41.9,224.1L42.4,225.2L44.1,225.7L42.4,226.1L41.9,227.3L41.4,226.1ZM46.99,225.66h4.0M48.99,223.46v4.4M53.9,225.7L55.6,225.2L56.1,224.1L56.6,225.2L58.3,225.7L56.6,226.1L56.1,227.3L55.6,226.1ZM61.14,225.66h4.0M63.14,223.46v4.4M68.0,225.7L69.7,225.2L70.2,224.1L70.7,225.2L72.4,225.7L70.7,226.1L70.2,227.3L69.7,226.1ZM75.28,225.66h4.0M77.28,223.46v4.4M82.2,225.7L83.9,225.2L84.4,224.1L84.9,225.2L86.6,225.7L84.9,226.1L84.4,227.3L83.9,226.1ZM89.43,225.66h4.0M91.43,223.46v4.4M96.3,225.7L98.0,225.2L98.5,224.1L99.0,225.2L100.7,225.7L99.0,226.1L98.5,227.3L98.0,226.1ZM103.58,225.66h4.0M105.58,223.46v4.4M110.4,225.7L112.1,225.2L112.6,224.1L113.1,225.2L114.8,225.7L113.1,226.1L112.6,227.3L112.1,226.1ZM117.72,225.66h4.0M119.72,223.46v4.4M124.6,225.7L126.3,225.2L126.8,224.1L127.3,225.2L129.0,225.7L127.3,226.1L126.8,227.3L126.3,226.1ZM131.87,225.66h4.0M133.87,223.46v4.4M138.7,225.7L140.4,225.2L140.9,224.1L141.4,225.2L143.1,225.7L141.4,226.1L140.9,227.3L140.4,226.1ZM146.01,225.66h4.0M148.01,223.46v4.4M152.9,225.7L154.6,225.2L155.1,224.1L155.6,225.2L157.3,225.7L155.6,226.1L155.1,227.3L154.6,226.1ZM160.16,225.66h4.0M162.16,223.46v4.4M167.0,225.7L168.7,225.2L169.2,224.1L169.7,225.2L171.4,225.7L169.7,226.1L169.2,227.3L168.7,226.1ZM174.31,225.66h4.0M176.31,223.46v4.4M181.2,225.7L182.9,225.2L183.4,224.1L183.9,225.2L185.6,225.7L183.9,226.1L183.4,227.3L182.9,226.1ZM188.45,225.66h4.0M190.45,223.46v4.4M195.3,225.7L197.0,225.2L197.5,224.1L198.0,225.2L199.7,225.7L198.0,226.1L197.5,227.3L197.0,226.1ZM202.60,225.66h4.0M204.60,223.46v4.4M209.5,225.7L211.2,225.2L211.7,224.1L212.2,225.2L213.9,225.7L212.2,226.1L211.7,227.3L211.2,226.1ZM216.74,225.66h4.0M218.74,223.46v4.4M223.6,225.7L225.3,225.2L225.8,224.1L226.3,225.2L228.0,225.7L226.3,226.1L225.8,227.3L225.3,226.1ZM230.89,225.66h4.0M232.89,223.46v4.4M18.70,232.80h4.0M20.70,230.60v4.4M25.6,232.8L27.3,232.3L27.8,231.2L28.3,232.3L30.0,232.8L28.3,233.2L27.8,234.4L27.3,233.2ZM32.85,232.80h4.0M34.85,230.60v4.4M39.7,232.8L41.4,232.3L41.9,231.2L42.4,232.3L44.1,232.8L42.4,233.2L41.9,234.4L41.4,233.2ZM46.99,232.80h4.0M48.99,230.60v4.4M53.9,232.8L55.6,232.3L56.1,231.2L56.6,232.3L58.3,232.8L56.6,233.2L56.1,234.4L55.6,233.2ZM61.14,232.80h4.0M63.14,230.60v4.4M68.0,232.8L69.7,232.3L70.2,231.2L70.7,232.3L72.4,232.8L70.7,233.2L70.2,234.4L69.7,233.2ZM75.28,232.80h4.0M77.28,230.60v4.4M82.2,232.8L83.9,232.3L84.4,231.2L84.9,232.3L86.6,232.8L84.9,233.2L84.4,234.4L83.9,233.2ZM89.43,232.80h4.0M91.43,230.60v4.4M96.3,232.8L98.0,232.3L98.5,231.2L99.0,232.3L100.7,232.8L99.0,233.2L98.5,234.4L98.0,233.2ZM103.58,232.80h4.0M105.58,230.60v4.4M110.4,232.8L112.1,232.3L112.6,231.2L113.1,232.3L114.8,232.8L113.1,233.2L112.6,234.4L112.1,233.2ZM117.72,232.80h4.0M119.72,230.60v4.4M124.6,232.8L126.3,232.3L126.8,231.2L127.3,232.3L129.0,232.8L127.3,233.2L126.8,234.4L126.3,233.2ZM131.87,232.80h4.0M133.87,230.60v4.4M138.7,232.8L140.4,232.3L140.9,231.2L141.4,232.3L143.1,232.8L141.4,233.2L140.9,234.4L140.4,233.2ZM146.01,232.80h4.0M148.01,230.60v4.4M152.9,232.8L154.6,232.3L155.1,231.2L155.6,232.3L157.3,232.8L155.6,233.2L155.1,234.4L154.6,233.2ZM160.16,232.80h4.0M162.16,230.60v4.4M167.0,232.8L168.7,232.3L169.2,231.2L169.7,232.3L171.4,232.8L169.7,233.2L169.2,234.4L168.7,233.2ZM174.31,232.80h4.0M176.31,230.60v4.4M181.2,232.8L182.9,232.3L183.4,231.2L183.9,232.3L185.6,232.8L183.9,233.2L183.4,234.4L182.9,233.2ZM188.45,232.80h4.0M190.45,230.60v4.4M195.3,232.8L197.0,232.3L197.5,231.2L198.0,232.3L199.7,232.8L198.0,233.2L197.5,234.4L197.0,233.2ZM202.60,232.80h4.0M204.60,230.60v4.4M209.5,232.8L211.2,232.3L211.7,231.2L212.2,232.3L213.9,232.8L212.2,233.2L211.7,234.4L211.2,233.2ZM216.74,232.80h4.0M218.74,230.60v4.4M223.6,232.8L225.3,232.3L225.8,231.2L226.3,232.3L228.0,232.8L226.3,233.2L225.8,234.4L225.3,233.2ZM230.89,232.80h4.0M232.89,230.60v4.4" stroke="#5a7177" stroke-width="0.55" fill="#5a7177" filter="url(#bl)"/>
<text transform="translate(7.6,23.7) scale(0.86,1)" fill="#fff" stroke="#fff" stroke-width="0.55" font-size="16.8">(a)</text>
<text x="5.5" y="227.9" fill="#fff" font-size="17">10 μm</text>
<rect x="6.4" y="234.4" width="46.6" height="7.8" fill="#fff"/>
<path d="M282.5,6.5H513.5V236.5H282.5Z" stroke="#000" stroke-width="1.15" fill="none"/>
<path d="M282.50,236.5v4.2 M282.50,6.5v-4.2 M290.20,236.5v2.6 M290.20,6.5v-2.6 M297.90,236.5v2.6 M297.90,6.5v-2.6 M305.60,236.5v2.6 M305.60,6.5v-2.6 M313.30,236.5v2.6 M313.30,6.5v-2.6 M321.00,236.5v4.2 M321.00,6.5v-4.2 M328.70,236.5v2.6 M328.70,6.5v-2.6 M336.40,236.5v2.6 M336.40,6.5v-2.6 M344.10,236.5v2.6 M344.10,6.5v-2.6 M351.80,236.5v2.6 M351.80,6.5v-2.6 M359.50,236.5v4.2 M359.50,6.5v-4.2 M367.20,236.5v2.6 M367.20,6.5v-2.6 M374.90,236.5v2.6 M374.90,6.5v-2.6 M382.60,236.5v2.6 M382.60,6.5v-2.6 M390.30,236.5v2.6 M390.30,6.5v-2.6 M398.00,236.5v4.2 M398.00,6.5v-4.2 M405.70,236.5v2.6 M405.70,6.5v-2.6 M413.40,236.5v2.6 M413.40,6.5v-2.6 M421.10,236.5v2.6 M421.10,6.5v-2.6 M428.80,236.5v2.6 M428.80,6.5v-2.6 M436.50,236.5v4.2 M436.50,6.5v-4.2 M444.20,236.5v2.6 M444.20,6.5v-2.6 M451.90,236.5v2.6 M451.90,6.5v-2.6 M459.60,236.5v2.6 M459.60,6.5v-2.6 M467.30,236.5v2.6 M467.30,6.5v-2.6 M475.00,236.5v4.2 M475.00,6.5v-4.2 M482.70,236.5v2.6 M482.70,6.5v-2.6 M490.40,236.5v2.6 M490.40,6.5v-2.6 M498.10,236.5v2.6 M498.10,6.5v-2.6 M505.80,236.5v2.6 M505.80,6.5v-2.6 M513.50,236.5v4.2 M513.50,6.5v-4.2 M282.5,6.50h-4.2 M513.5,6.50h4.2 M282.5,14.17h-2.6 M513.5,14.17h2.6 M282.5,21.83h-2.6 M513.5,21.83h2.6 M282.5,29.50h-2.6 M513.5,29.50h2.6 M282.5,37.17h-2.6 M513.5,37.17h2.6 M282.5,44.83h-2.6 M513.5,44.83h2.6 M282.5,52.50h-2.6 M513.5,52.50h2.6 M282.5,60.17h-2.6 M513.5,60.17h2.6 M282.5,67.83h-2.6 M513.5,67.83h2.6 M282.5,75.50h-2.6 M513.5,75.50h2.6 M282.5,83.17h-4.2 M513.5,83.17h4.2 M282.5,90.83h-2.6 M513.5,90.83h2.6 M282.5,98.50h-2.6 M513.5,98.50h2.6 M282.5,106.17h-2.6 M513.5,106.17h2.6 M282.5,113.83h-2.6 M513.5,113.83h2.6 M282.5,121.50h-2.6 M513.5,121.50h2.6 M282.5,129.17h-2.6 M513.5,129.17h2.6 M282.5,136.83h-2.6 M513.5,136.83h2.6 M282.5,144.50h-2.6 M513.5,144.50h2.6 M282.5,152.17h-2.6 M513.5,152.17h2.6 M282.5,159.83h-4.2 M513.5,159.83h4.2 M282.5,167.50h-2.6 M513.5,167.50h2.6 M282.5,175.17h-2.6 M513.5,175.17h2.6 M282.5,182.83h-2.6 M513.5,182.83h2.6 M282.5,190.50h-2.6 M513.5,190.50h2.6 M282.5,198.17h-2.6 M513.5,198.17h2.6 M282.5,205.83h-2.6 M513.5,205.83h2.6 M282.5,213.50h-2.6 M513.5,213.50h2.6 M282.5,221.17h-2.6 M513.5,221.17h2.6 M282.5,228.83h-2.6 M513.5,228.83h2.6 M282.5,236.50h-4.2 M513.5,236.50h4.2" stroke="#000" stroke-width="1.25" fill="none"/>
<g font-size="14.2" fill="#000"><text x="282.50" y="255.7" text-anchor="middle">400</text><text x="321.00" y="255.7" text-anchor="middle">500</text><text x="359.50" y="255.7" text-anchor="middle">600</text><text x="398.00" y="255.7" text-anchor="middle">700</text><text x="436.50" y="255.7" text-anchor="middle">800</text><text x="475.00" y="255.7" text-anchor="middle">900</text><text x="513.50" y="255.7" text-anchor="middle">1000</text></g>
<text x="398" y="274.3" text-anchor="middle" font-size="17.4" font-weight="bold">Wavelength (nm)</text>
<text transform="translate(271,124.9) rotate(-90)" text-anchor="middle" font-size="17.4" font-weight="bold">Absorbance (a.u.)</text>
<text x="285.5" y="24.2" font-size="18" font-weight="bold">(b)</text>
<text x="285" y="43.7" font-size="13.4" letter-spacing="-0.17">Simulation (Ideal)</text>
<text x="285" y="106.6" font-size="13.4" letter-spacing="-0.17" fill="#1414ee">Simulation (Real)</text>
<text x="285" y="176.8" font-size="13.1" letter-spacing="-0.12" fill="#b0102a">Experimental</text>
<path d="M282.50,49.00 C284.75,49.57 292.08,50.90 296.00,52.40 C299.92,53.90 302.67,56.30 306.00,58.00 C309.33,59.70 313.50,61.67 316.00,62.60 C318.50,63.53 319.33,63.63 321.00,63.60 C322.67,63.57 324.08,63.00 326.00,62.40 C327.92,61.80 330.17,60.13 332.50,60.00 C334.83,59.87 337.42,60.93 340.00,61.60 C342.58,62.27 345.83,63.43 348.00,64.00 C350.17,64.57 351.17,65.07 353.00,65.00 C354.83,64.93 357.17,64.43 359.00,63.60 C360.83,62.77 362.17,61.60 364.00,60.00 C365.83,58.40 368.00,55.75 370.00,54.00 C372.00,52.25 374.33,50.50 376.00,49.50 C377.67,48.50 378.83,48.17 380.00,48.00 C381.17,47.83 381.33,47.67 383.00,48.50 C384.67,49.33 387.50,51.67 390.00,53.00 C392.50,54.33 395.67,56.33 398.00,56.50 C400.33,56.67 402.00,55.75 404.00,54.00 C406.00,52.25 407.67,49.17 410.00,46.00 C412.33,42.83 415.67,38.00 418.00,35.00 C420.33,32.00 422.00,29.67 424.00,28.00 C426.00,26.33 428.00,25.17 430.00,25.00 C432.00,24.83 434.00,25.67 436.00,27.00 C438.00,28.33 440.17,30.83 442.00,33.00 C443.83,35.17 445.43,37.40 447.00,40.00 C448.57,42.60 449.95,46.03 451.40,48.60 C452.85,51.17 454.12,52.83 455.70,55.40 C457.28,57.97 459.03,60.85 460.90,64.00 C462.77,67.15 465.15,71.40 466.90,74.30 C468.65,77.20 470.07,79.63 471.40,81.40 C472.73,83.17 473.65,83.37 474.90,84.90 C476.15,86.43 477.12,88.58 478.90,90.60 C480.68,92.62 483.15,94.98 485.60,97.00 C488.05,99.02 491.42,101.37 493.60,102.70 C495.78,104.03 496.90,104.05 498.70,105.00 C500.50,105.95 502.78,107.73 504.40,108.40 C506.02,109.07 506.97,108.52 508.40,109.00 C509.83,109.48 512.23,110.92 513.00,111.30" stroke="#000" stroke-width="2.2" fill="none"/>
<path d="M282.60,121.10 C282.88,120.73 283.58,119.52 284.30,118.90 C285.02,118.28 286.18,117.33 286.90,117.40 C287.62,117.47 288.03,118.58 288.60,119.30 C289.17,120.02 289.72,121.63 290.30,121.70 C290.88,121.77 291.43,120.22 292.10,119.70 C292.77,119.18 293.58,118.43 294.30,118.60 C295.02,118.77 295.73,120.03 296.40,120.70 C297.07,121.37 297.47,122.53 298.30,122.60 C299.13,122.67 300.52,121.02 301.40,121.10 C302.28,121.18 302.77,122.10 303.60,123.10 C304.43,124.10 305.45,126.23 306.40,127.10 C307.35,127.97 308.47,128.22 309.30,128.30 C310.13,128.38 310.57,127.32 311.40,127.60 C312.23,127.88 313.35,129.12 314.30,130.00 C315.25,130.88 316.15,132.72 317.10,132.90 C318.05,133.08 319.03,131.53 320.00,131.10 C320.97,130.67 321.83,130.30 322.90,130.30 C323.97,130.30 325.33,131.63 326.40,131.10 C327.47,130.57 328.35,128.72 329.30,127.10 C330.25,125.48 331.15,122.58 332.10,121.40 C333.05,120.22 333.57,120.35 335.00,120.00 C336.43,119.65 339.27,119.82 340.70,119.30 C342.13,118.78 342.53,117.68 343.60,116.90 C344.67,116.12 345.92,114.68 347.10,114.60 C348.28,114.52 349.50,116.33 350.70,116.40 C351.90,116.47 353.10,115.63 354.30,115.00 C355.50,114.37 356.72,113.32 357.90,112.60 C359.08,111.88 360.10,110.85 361.40,110.70 C362.70,110.55 364.38,111.47 365.70,111.70 C367.02,111.93 368.10,111.90 369.30,112.10 C370.50,112.30 371.72,112.82 372.90,112.90 C374.08,112.98 375.10,112.32 376.40,112.60 C377.70,112.88 379.38,113.88 380.70,114.60 C382.02,115.32 383.10,116.35 384.30,116.90 C385.50,117.45 386.72,118.05 387.90,117.90 C389.08,117.75 390.22,117.08 391.40,116.00 C392.58,114.92 393.80,112.88 395.00,111.40 C396.20,109.92 397.17,108.33 398.60,107.10 C400.03,105.87 402.30,104.83 403.60,104.00 C404.90,103.17 405.45,102.83 406.40,102.10 C407.35,101.37 408.10,99.90 409.30,99.60 C410.50,99.30 412.30,99.80 413.60,100.30 C414.90,100.80 415.92,101.58 417.10,102.60 C418.28,103.62 419.50,104.68 420.70,106.40 C421.90,108.12 423.10,110.63 424.30,112.90 C425.50,115.17 426.72,117.50 427.90,120.00 C429.08,122.50 430.45,125.75 431.40,127.90 C432.35,130.05 432.17,130.28 433.60,132.90 C435.03,135.52 437.87,140.03 440.00,143.60 C442.13,147.17 444.27,150.92 446.40,154.30 C448.53,157.68 450.65,160.80 452.80,163.90 C454.95,167.00 457.50,170.70 459.30,172.90 C461.10,175.10 461.93,175.73 463.60,177.10 C465.27,178.47 467.17,179.90 469.30,181.10 C471.43,182.30 474.02,183.30 476.40,184.30 C478.78,185.30 481.22,186.10 483.60,187.10 C485.98,188.10 488.32,189.33 490.70,190.30 C493.08,191.27 495.52,192.35 497.90,192.90 C500.28,193.45 502.48,193.60 505.00,193.60 C507.52,193.60 511.67,193.02 513.00,192.90" stroke="#1414ee" stroke-width="2.2" fill="none"/>
<path d="M282.5,194.7 L284.5,195.1 L286.5,195.5 L288.5,195.9 L290.5,196.3 L292.5,196.6 L294.5,196.8 L296.5,197.0 L298.5,197.2 L300.5,197.4 L302.5,197.7 L304.5,198.1 L306.5,198.5 L308.5,198.8 L310.5,199.3 L312.5,199.7 L314.5,200.2 L316.5,200.7 L318.5,201.2 L320.5,201.0 L322.5,200.9 L324.5,200.7 L326.5,199.7 L328.5,198.6 L330.5,197.4 L332.5,196.4 L334.5,195.4 L336.5,194.4 L338.5,193.4 L340.5,192.4 L342.5,191.3 L344.5,190.1 L346.5,189.0 L348.5,187.9 L350.5,187.0 L352.5,186.2 L354.5,185.4 L356.5,184.6 L358.5,184.0 L360.5,183.5 L362.5,183.1 L364.5,182.6 L366.5,182.2 L368.5,181.7 L370.5,181.3 L372.5,180.8 L374.5,180.4 L376.5,179.9 L378.5,179.9 L380.5,180.1 L382.5,180.3 L384.5,180.7 L386.5,181.4 L388.5,182.1 L390.5,182.9 L392.5,183.6 L394.5,184.6 L396.5,185.6 L398.5,186.5 L400.5,187.2 L402.5,187.9 L404.5,188.5 L406.5,187.9 L408.5,186.9 L410.5,185.9 L412.5,184.5 L414.5,182.8 L416.5,181.1 L418.5,179.5 L420.5,178.1 L422.5,176.7 L424.5,175.4 L426.5,174.4 L428.5,173.5 L430.5,172.5 L432.5,171.4 L434.5,172.3 L436.5,173.5 L438.5,174.6 L440.5,175.9 L442.5,177.2 L444.5,178.5 L446.5,179.9 L448.5,181.3 L450.5,182.8 L452.5,184.2 L454.5,185.7 L456.5,187.1 L458.5,188.6 L460.5,190.0 L462.5,191.0 L464.5,192.1 L466.5,193.1 L468.5,194.2 L470.5,195.2 L472.5,196.3 L474.5,197.3 L476.5,198.2 L478.5,199.0 L480.5,199.8 L482.5,200.6 L484.5,201.3 L486.5,202.1 L488.5,202.9 L490.5,203.6 L492.5,204.1 L494.5,204.5 L496.5,205.0 L498.5,205.4 L500.5,205.8 L502.5,206.3 L504.5,206.7 L506.5,207.1 L508.5,207.4 L510.5,207.6 L512.5,207.9 L512.5,217.9 L510.5,217.4 L508.5,217.0 L506.5,216.5 L504.5,216.0 L502.5,215.4 L500.5,214.8 L498.5,214.1 L496.5,213.5 L494.5,212.9 L492.5,212.3 L490.5,211.7 L488.5,210.8 L486.5,209.8 L484.5,208.9 L482.5,207.9 L480.5,207.0 L478.5,206.1 L476.5,205.1 L474.5,204.1 L472.5,202.9 L470.5,201.7 L468.5,200.5 L466.5,199.2 L464.5,198.0 L462.5,196.8 L460.5,195.6 L458.5,194.1 L456.5,192.5 L454.5,190.8 L452.5,189.2 L450.5,187.6 L448.5,186.0 L446.5,184.4 L444.5,182.8 L442.5,181.4 L440.5,179.9 L438.5,178.5 L436.5,177.2 L434.5,175.8 L432.5,174.8 L430.5,175.7 L428.5,176.6 L426.5,177.6 L424.5,178.5 L422.5,179.8 L420.5,181.1 L418.5,182.4 L416.5,183.9 L414.5,185.6 L412.5,187.3 L410.5,188.6 L408.5,189.6 L406.5,190.6 L404.5,191.1 L402.5,190.4 L400.5,189.7 L398.5,189.0 L396.5,188.0 L394.5,187.0 L392.5,185.9 L390.5,185.1 L388.5,184.3 L386.5,183.6 L384.5,182.8 L382.5,182.3 L380.5,182.1 L378.5,181.9 L376.5,181.9 L374.5,182.4 L372.5,182.8 L370.5,183.2 L368.5,183.7 L366.5,184.1 L364.5,184.5 L362.5,185.0 L360.5,185.5 L358.5,185.9 L356.5,186.5 L354.5,187.3 L352.5,188.1 L350.5,188.9 L348.5,189.7 L346.5,190.9 L344.5,192.0 L342.5,193.1 L340.5,194.2 L338.5,195.2 L336.5,196.2 L334.5,197.2 L332.5,198.2 L330.5,199.2 L328.5,200.4 L326.5,201.5 L324.5,202.4 L322.5,202.6 L320.5,202.8 L318.5,203.0 L316.5,202.5 L314.5,202.0 L312.5,201.5 L310.5,201.0 L308.5,200.6 L306.5,200.2 L304.5,199.8 L302.5,199.4 L300.5,199.0 L298.5,198.8 L296.5,198.6 L294.5,198.4 L292.5,198.2 L290.5,198.0 L288.5,197.6 L286.5,197.1 L284.5,196.7 L282.5,196.3Z" fill="#f00"/><g stroke="#f00" fill="none" stroke-linejoin="round"><path d="M282.3,195.2 L282.7,196.0 L283.1,195.4 L283.5,195.4 L283.9,194.9 L284.3,195.7 L284.7,197.1 L285.1,196.5 L285.5,197.2 L285.9,196.5 L286.3,196.7 L286.7,196.6 L287.1,194.8 L287.5,197.4 L287.9,197.1 L288.3,197.2 L288.7,195.1 L289.1,195.1 L289.5,196.1 L289.9,196.6 L290.3,197.4 L290.7,197.2 L291.1,197.8 L291.5,196.6 L291.9,197.6" stroke-width="2.40"/><path d="M291.9,197.6 L292.3,197.8 L292.7,196.7 L293.1,199.2 L293.5,198.1 L293.9,198.8 L294.3,196.9 L294.7,196.9 L295.1,197.3 L295.5,197.6 L295.9,198.4 L296.3,198.0 L296.7,197.4 L297.1,196.9 L297.5,197.4 L297.9,199.2 L298.3,197.1 L298.7,198.3 L299.1,198.5 L299.5,196.6 L299.9,198.2 L300.3,199.5 L300.7,196.1 L301.1,197.9 L301.5,198.2" stroke-width="2.38"/><path d="M301.5,198.2 L301.9,197.5 L302.3,199.0 L302.7,198.5 L303.1,197.1 L303.5,199.6 L303.9,199.5 L304.3,199.9 L304.7,200.5 L305.1,199.4 L305.5,199.2 L305.9,197.8 L306.3,199.9 L306.7,198.7 L307.1,198.9 L307.5,198.2 L307.9,198.6 L308.3,199.1 L308.7,201.1 L309.1,197.7 L309.5,198.4 L309.9,200.2 L310.3,201.6 L310.7,200.8 L311.1,198.2" stroke-width="2.36"/><path d="M311.1,198.2 L311.5,197.7 L311.9,200.8 L312.3,199.8 L312.7,199.5 L313.1,201.8 L313.5,202.0 L313.9,201.1 L314.3,201.3 L314.7,201.6 L315.1,203.0 L315.5,202.0 L315.9,202.0 L316.3,202.1 L316.7,199.9 L317.1,203.1 L317.5,202.9 L317.9,202.5 L318.3,199.9 L318.7,201.4 L319.1,203.0 L319.5,200.0 L319.9,201.8 L320.3,203.1 L320.7,200.5" stroke-width="2.34"/><path d="M320.7,200.5 L321.1,203.6 L321.5,202.4 L321.9,201.6 L322.3,202.1 L322.7,202.4 L323.1,201.8 L323.5,202.9 L323.9,200.9 L324.3,201.1 L324.7,202.7 L325.1,201.5 L325.5,200.2 L325.9,202.0 L326.3,202.4 L326.7,200.0 L327.1,198.8 L327.5,199.9 L327.9,199.7 L328.3,199.3 L328.7,200.9 L329.1,198.0 L329.5,200.3 L329.9,197.3 L330.3,197.6" stroke-width="2.32"/><path d="M330.3,197.6 L330.7,198.9 L331.1,199.2 L331.5,198.7 L331.9,197.9 L332.3,197.5 L332.7,197.3 L333.1,197.6 L333.5,196.6 L333.9,196.9 L334.3,197.0 L334.7,196.2 L335.1,196.9 L335.5,196.5 L335.9,198.0 L336.3,195.8 L336.7,194.7 L337.1,194.6 L337.5,194.8 L337.9,195.7 L338.3,194.0 L338.7,194.7 L339.1,196.2 L339.5,190.8 L339.9,192.3" stroke-width="2.30"/><path d="M339.9,192.3 L340.3,193.7 L340.7,193.7 L341.1,193.3 L341.5,192.2 L341.9,193.3 L342.3,192.6 L342.7,191.4 L343.1,194.9 L343.5,192.1 L343.9,190.7 L344.3,191.0 L344.7,190.7 L345.1,190.6 L345.5,187.3 L345.9,189.7 L346.3,191.3 L346.7,188.3 L347.1,189.5 L347.5,190.6 L347.9,190.2 L348.3,190.8 L348.7,186.5 L349.1,188.1 L349.5,188.0" stroke-width="2.28"/><path d="M349.5,188.0 L349.9,189.0 L350.3,189.5 L350.7,184.6 L351.1,189.2 L351.5,185.7 L351.9,188.3 L352.3,185.3 L352.7,187.3 L353.1,188.5 L353.5,186.6 L353.9,186.9 L354.3,187.5 L354.7,186.5 L355.1,186.0 L355.5,188.0 L355.9,187.2 L356.3,185.2 L356.7,188.9 L357.1,183.7 L357.5,186.5 L357.9,184.7 L358.3,185.2 L358.7,185.9 L359.1,185.1" stroke-width="2.26"/><path d="M359.1,185.1 L359.5,185.6 L359.9,182.5 L360.3,182.4 L360.7,185.3 L361.1,183.0 L361.5,182.8 L361.9,182.1 L362.3,185.9 L362.7,185.1 L363.1,186.0 L363.5,182.5 L363.9,183.7 L364.3,182.0 L364.7,184.6 L365.1,185.7 L365.5,182.1 L365.9,185.5 L366.3,184.6 L366.7,182.8 L367.1,180.1 L367.5,185.0 L367.9,182.7 L368.3,181.8 L368.7,183.2" stroke-width="2.24"/><path d="M368.7,183.2 L369.1,183.2 L369.5,184.7 L369.9,180.9 L370.3,184.0 L370.7,184.4 L371.1,184.3 L371.5,181.8 L371.9,180.8 L372.3,183.4 L372.7,181.9 L373.1,181.9 L373.5,183.8 L373.9,181.1 L374.3,177.9 L374.7,180.7 L375.1,178.4 L375.5,182.4 L375.9,181.6 L376.3,180.0 L376.7,180.9 L377.1,182.1 L377.5,181.0 L377.9,183.0 L378.3,180.8" stroke-width="2.22"/><path d="M378.3,180.8 L378.7,182.6 L379.1,183.4 L379.5,183.6 L379.9,180.0 L380.3,182.5 L380.7,178.1 L381.1,179.4 L381.5,178.0 L381.9,183.0 L382.3,179.3 L382.7,181.3 L383.1,181.0 L383.5,181.3 L383.9,180.5 L384.3,182.1 L384.7,184.8 L385.1,182.0 L385.5,183.0 L385.9,184.0 L386.3,182.1 L386.7,180.4 L387.1,181.8 L387.5,184.7 L387.9,180.2" stroke-width="2.20"/><path d="M387.9,180.2 L388.3,182.1 L388.7,185.1 L389.1,184.8 L389.5,183.6 L389.9,185.2 L390.3,184.2 L390.7,182.0 L391.1,181.5 L391.5,183.3 L391.9,186.1 L392.3,183.7 L392.7,183.3 L393.1,183.7 L393.5,182.6 L393.9,185.3 L394.3,183.6 L394.7,186.5 L395.1,181.8 L395.5,186.9 L395.9,185.3 L396.3,183.1 L396.7,188.2 L397.1,186.6 L397.5,183.2" stroke-width="2.15"/><path d="M397.5,183.2 L397.9,185.9 L398.3,188.2 L398.7,187.0 L399.1,189.4 L399.5,189.5 L399.9,189.5 L400.3,189.0 L400.7,191.0 L401.1,189.9 L401.5,189.7 L401.9,184.9 L402.3,190.8 L402.7,191.8 L403.1,188.8 L403.5,188.6 L403.9,193.5 L404.3,186.3 L404.7,190.8 L405.1,194.8 L405.5,187.9 L405.9,191.0 L406.3,193.2 L406.7,188.9 L407.1,190.1" stroke-width="2.10"/><path d="M407.1,190.1 L407.5,190.6 L407.9,186.6 L408.3,188.2 L408.7,188.8 L409.1,189.7 L409.5,187.7 L409.9,187.1 L410.3,185.1 L410.7,186.4 L411.1,188.9 L411.5,186.9 L411.9,184.5 L412.3,184.2 L412.7,191.3 L413.1,187.9 L413.5,186.5 L413.9,179.0 L414.3,185.8 L414.7,185.1 L415.1,187.6 L415.5,184.3 L415.9,182.8 L416.3,183.9 L416.7,177.7" stroke-width="2.04"/><path d="M416.7,177.7 L417.1,184.5 L417.5,182.4 L417.9,179.6 L418.3,184.3 L418.7,185.2 L419.1,177.1 L419.5,178.6 L419.9,180.7 L420.3,180.2 L420.7,178.5 L421.1,176.7 L421.5,184.3 L421.9,181.3 L422.3,175.3 L422.7,174.7 L423.1,182.2 L423.5,180.1 L423.9,182.0 L424.3,179.2 L424.7,174.6 L425.1,177.4 L425.5,170.8 L425.9,174.3 L426.3,175.9" stroke-width="1.98"/><path d="M426.3,175.9 L426.7,177.3 L427.1,173.8 L427.5,175.2 L427.9,176.6 L428.3,176.2 L428.7,176.7 L429.1,175.3 L429.5,173.7 L429.9,176.6 L430.3,174.3 L430.7,171.7 L431.1,172.0 L431.5,173.6 L431.9,173.1 L432.3,173.7 L432.7,173.0 L433.1,173.7 L433.5,173.0 L433.9,169.9 L434.3,175.2 L434.7,177.4 L435.1,175.8 L435.5,174.1 L435.9,176.3" stroke-width="1.92"/><path d="M435.9,176.3 L436.3,172.1 L436.7,169.4 L437.1,175.9 L437.5,172.9 L437.9,178.6 L438.3,172.9 L438.7,168.4 L439.1,173.5 L439.5,182.5 L439.9,176.2 L440.3,173.1 L440.7,175.4 L441.1,180.1 L441.5,180.3 L441.9,179.5 L442.3,184.4 L442.7,182.0 L443.1,179.6 L443.5,182.1 L443.9,186.3 L444.3,184.1 L444.7,184.6 L445.1,177.0 L445.5,180.8" stroke-width="1.86"/><path d="M445.5,180.8 L445.9,184.4 L446.3,180.8 L446.7,186.4 L447.1,184.9 L447.5,186.4 L447.9,182.4 L448.3,193.3 L448.7,188.7 L449.1,183.3 L449.5,184.8 L449.9,194.8 L450.3,183.6 L450.7,188.9 L451.1,189.7 L451.5,186.0 L451.9,181.4 L452.3,187.4 L452.7,188.4 L453.1,192.0 L453.5,190.9 L453.9,187.9 L454.3,191.8 L454.7,190.8 L455.1,189.6" stroke-width="1.78"/><path d="M455.1,189.6 L455.5,189.3 L455.9,188.3 L456.3,192.8 L456.7,185.2 L457.1,187.4 L457.5,190.6 L457.9,184.1 L458.3,189.2 L458.7,182.0 L459.1,188.6 L459.5,194.8 L459.9,195.1 L460.3,192.4 L460.7,191.8 L461.1,186.2 L461.5,202.3 L461.9,196.1 L462.3,199.3 L462.7,189.6 L463.1,193.3 L463.5,185.2 L463.9,198.7 L464.3,199.7 L464.7,185.4" stroke-width="1.71"/><path d="M464.7,185.4 L465.1,195.1 L465.5,198.9 L465.9,186.6 L466.3,186.4 L466.7,190.6 L467.1,193.2 L467.5,189.2 L467.9,197.1 L468.3,198.6 L468.7,200.9 L469.1,201.5 L469.5,206.2 L469.9,204.6 L470.3,191.0 L470.7,195.7 L471.1,192.8 L471.5,192.9 L471.9,198.8 L472.3,199.5 L472.7,202.5 L473.1,190.8 L473.5,193.0 L473.9,200.2 L474.3,199.4" stroke-width="1.64"/><path d="M474.3,199.4 L474.7,199.0 L475.1,200.7 L475.5,196.7 L475.9,205.6 L476.3,203.7 L476.7,201.2 L477.1,197.9 L477.5,201.0 L477.9,187.1 L478.3,196.4 L478.7,202.8 L479.1,193.5 L479.5,204.2 L479.9,204.0 L480.3,194.7 L480.7,201.9 L481.1,201.7 L481.5,206.7 L481.9,207.9 L482.3,203.9 L482.7,198.9 L483.1,203.6 L483.5,204.3 L483.9,209.6" stroke-width="1.59"/><path d="M483.9,209.6 L484.3,206.9 L484.7,200.5 L485.1,196.6 L485.5,203.1 L485.9,200.9 L486.3,198.6 L486.7,205.3 L487.1,203.0 L487.5,207.1 L487.9,210.1 L488.3,204.0 L488.7,222.6 L489.1,204.9 L489.5,214.8 L489.9,208.3 L490.3,215.2 L490.7,191.4 L491.1,202.6 L491.5,209.6 L491.9,212.2 L492.3,224.3 L492.7,210.5 L493.1,217.3 L493.5,213.8" stroke-width="1.57"/><path d="M493.5,213.8 L493.9,215.2 L494.3,212.2 L494.7,207.6 L495.1,212.5 L495.5,201.3 L495.9,217.5 L496.3,201.9 L496.7,211.1 L497.1,224.7 L497.5,207.9 L497.9,209.7 L498.3,218.2 L498.7,210.0 L499.1,204.0 L499.5,211.9 L499.9,214.4 L500.3,215.5 L500.7,204.6 L501.1,223.5 L501.5,223.0 L501.9,210.8 L502.3,212.8 L502.7,207.7 L503.1,221.6" stroke-width="1.55"/><path d="M503.1,221.6 L503.5,205.8 L503.9,216.3 L504.3,207.7 L504.7,206.1 L505.1,217.0 L505.5,221.8 L505.9,211.6 L506.3,206.5 L506.7,218.1 L507.1,211.5 L507.5,214.4 L507.9,223.9 L508.3,221.0 L508.7,208.1 L509.1,230.2 L509.5,212.4 L509.9,218.6 L510.3,207.4 L510.7,212.2 L511.1,198.7 L511.5,227.0 L511.9,223.7 L512.3,203.1 L512.7,200.8" stroke-width="1.52"/><path d="M512.7,200.8 L513.1,199.9" stroke-width="1.50"/></g>
</svg>
</body></html>
